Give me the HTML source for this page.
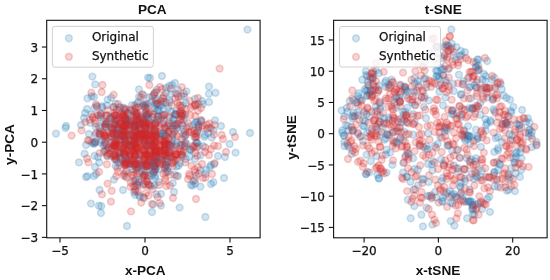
<!DOCTYPE html><html><head><meta charset="utf-8"><title>PCA and t-SNE</title><style>html,body{margin:0;padding:0;background:#fff;width:550px;height:280px;overflow:hidden}svg{display:block}</style></head><body><svg width="550" height="280" viewBox="0 0 550 280">
<rect width="550" height="280" fill="#fff"/>
<clipPath id="clip_pca"><rect x="46.7" y="20.3" width="213.40000000000003" height="217.5"/></clipPath>
<g clip-path="url(#clip_pca)">
<g fill="#1f77b4" fill-opacity="0.2" stroke="#1f77b4" stroke-opacity="0.2" stroke-width="1.6"><circle cx="247.4" cy="29.6" r="3.4"/><circle cx="162.0" cy="76.0" r="3.4"/><circle cx="92.4" cy="76.6" r="3.4"/><circle cx="95.2" cy="84.4" r="3.4"/><circle cx="148.0" cy="77.6" r="3.4"/><circle cx="139.0" cy="89.4" r="3.4"/><circle cx="87.4" cy="98.4" r="3.4"/><circle cx="107.6" cy="99.6" r="3.4"/><circle cx="87.0" cy="109.0" r="3.4"/><circle cx="85.0" cy="113.0" r="3.4"/><circle cx="84.0" cy="118.0" r="3.4"/><circle cx="66.0" cy="126.0" r="3.4"/><circle cx="81.0" cy="125.0" r="3.4"/><circle cx="56.0" cy="133.6" r="3.4"/><circle cx="65.6" cy="128.0" r="3.4"/><circle cx="89.0" cy="134.0" r="3.4"/><circle cx="86.0" cy="145.0" r="3.4"/><circle cx="92.0" cy="142.0" r="3.4"/><circle cx="79.0" cy="162.4" r="3.4"/><circle cx="95.0" cy="167.0" r="3.4"/><circle cx="96.0" cy="174.0" r="3.4"/><circle cx="86.0" cy="177.0" r="3.4"/><circle cx="94.0" cy="176.0" r="3.4"/><circle cx="114.0" cy="179.6" r="3.4"/><circle cx="99.6" cy="190.0" r="3.4"/><circle cx="91.0" cy="203.6" r="3.4"/><circle cx="101.0" cy="213.0" r="3.4"/><circle cx="152.0" cy="212.0" r="3.4"/><circle cx="127.0" cy="226.0" r="3.4"/><circle cx="123.0" cy="190.0" r="3.4"/><circle cx="134.0" cy="192.0" r="3.4"/><circle cx="140.0" cy="197.0" r="3.4"/><circle cx="144.0" cy="198.0" r="3.4"/><circle cx="250.0" cy="133.0" r="3.4"/><circle cx="233.0" cy="132.0" r="3.4"/><circle cx="229.6" cy="144.0" r="3.4"/><circle cx="235.6" cy="152.6" r="3.4"/><circle cx="221.0" cy="126.0" r="3.4"/><circle cx="215.0" cy="120.4" r="3.4"/><circle cx="205.0" cy="135.0" r="3.4"/><circle cx="208.0" cy="133.0" r="3.4"/><circle cx="203.0" cy="146.0" r="3.4"/><circle cx="218.0" cy="156.0" r="3.4"/><circle cx="225.0" cy="157.0" r="3.4"/><circle cx="211.0" cy="165.0" r="3.4"/><circle cx="195.0" cy="159.0" r="3.4"/><circle cx="191.0" cy="150.0" r="3.4"/><circle cx="198.0" cy="130.0" r="3.4"/><circle cx="197.0" cy="122.0" r="3.4"/><circle cx="180.0" cy="163.0" r="3.4"/><circle cx="224.0" cy="178.0" r="3.4"/><circle cx="211.0" cy="184.0" r="3.4"/><circle cx="210.0" cy="167.0" r="3.4"/><circle cx="200.4" cy="186.6" r="3.4"/><circle cx="191.0" cy="185.0" r="3.4"/><circle cx="196.0" cy="176.0" r="3.4"/><circle cx="178.0" cy="176.0" r="3.4"/><circle cx="174.0" cy="192.0" r="3.4"/><circle cx="161.0" cy="194.0" r="3.4"/><circle cx="161.0" cy="205.6" r="3.4"/><circle cx="179.6" cy="207.6" r="3.4"/><circle cx="205.4" cy="217.0" r="3.4"/><circle cx="175.0" cy="83.0" r="3.4"/><circle cx="172.0" cy="85.0" r="3.4"/><circle cx="178.0" cy="90.0" r="3.4"/><circle cx="186.4" cy="91.4" r="3.4"/><circle cx="209.0" cy="86.6" r="3.4"/><circle cx="202.0" cy="101.0" r="3.4"/><circle cx="209.0" cy="102.0" r="3.4"/><circle cx="186.0" cy="103.0" r="3.4"/><circle cx="150.0" cy="78.0" r="3.4"/><circle cx="91.7" cy="96.3" r="3.4"/><circle cx="165.9" cy="87.9" r="3.4"/><circle cx="156.9" cy="89.6" r="3.4"/><circle cx="169.1" cy="86.0" r="3.4"/><circle cx="165.9" cy="92.9" r="3.4"/><circle cx="215.5" cy="92.8" r="3.4"/><circle cx="94.1" cy="96.9" r="3.4"/><circle cx="101.9" cy="106.1" r="3.4"/><circle cx="111.2" cy="97.6" r="3.4"/><circle cx="138.4" cy="101.7" r="3.4"/><circle cx="139.0" cy="96.8" r="3.4"/><circle cx="154.0" cy="95.1" r="3.4"/><circle cx="143.7" cy="95.3" r="3.4"/><circle cx="147.7" cy="104.3" r="3.4"/><circle cx="151.8" cy="101.3" r="3.4"/><circle cx="154.3" cy="93.9" r="3.4"/><circle cx="149.1" cy="97.3" r="3.4"/><circle cx="155.4" cy="103.5" r="3.4"/><circle cx="157.1" cy="104.1" r="3.4"/><circle cx="162.4" cy="98.0" r="3.4"/><circle cx="163.4" cy="101.7" r="3.4"/><circle cx="155.9" cy="99.0" r="3.4"/><circle cx="169.4" cy="100.4" r="3.4"/><circle cx="175.6" cy="93.6" r="3.4"/><circle cx="170.9" cy="93.9" r="3.4"/><circle cx="169.8" cy="102.1" r="3.4"/><circle cx="181.3" cy="96.2" r="3.4"/><circle cx="184.0" cy="96.3" r="3.4"/><circle cx="194.9" cy="98.9" r="3.4"/><circle cx="208.9" cy="93.9" r="3.4"/><circle cx="91.4" cy="114.4" r="3.4"/><circle cx="99.0" cy="115.6" r="3.4"/><circle cx="102.3" cy="107.5" r="3.4"/><circle cx="96.5" cy="105.8" r="3.4"/><circle cx="94.5" cy="108.0" r="3.4"/><circle cx="113.3" cy="106.9" r="3.4"/><circle cx="114.4" cy="115.3" r="3.4"/><circle cx="115.5" cy="103.6" r="3.4"/><circle cx="106.9" cy="105.4" r="3.4"/><circle cx="119.6" cy="107.0" r="3.4"/><circle cx="118.7" cy="110.2" r="3.4"/><circle cx="131.9" cy="105.2" r="3.4"/><circle cx="128.2" cy="113.0" r="3.4"/><circle cx="123.7" cy="107.7" r="3.4"/><circle cx="124.3" cy="108.7" r="3.4"/><circle cx="135.7" cy="113.3" r="3.4"/><circle cx="134.8" cy="112.8" r="3.4"/><circle cx="131.2" cy="110.1" r="3.4"/><circle cx="145.9" cy="115.1" r="3.4"/><circle cx="136.8" cy="103.6" r="3.4"/><circle cx="143.5" cy="104.3" r="3.4"/><circle cx="142.7" cy="114.8" r="3.4"/><circle cx="137.0" cy="115.6" r="3.4"/><circle cx="136.5" cy="107.7" r="3.4"/><circle cx="143.8" cy="105.6" r="3.4"/><circle cx="145.6" cy="105.5" r="3.4"/><circle cx="147.5" cy="115.2" r="3.4"/><circle cx="149.1" cy="114.0" r="3.4"/><circle cx="145.4" cy="107.7" r="3.4"/><circle cx="154.4" cy="104.9" r="3.4"/><circle cx="144.7" cy="106.9" r="3.4"/><circle cx="157.8" cy="110.5" r="3.4"/><circle cx="154.7" cy="108.4" r="3.4"/><circle cx="156.9" cy="110.9" r="3.4"/><circle cx="162.7" cy="115.4" r="3.4"/><circle cx="162.2" cy="104.3" r="3.4"/><circle cx="159.0" cy="110.5" r="3.4"/><circle cx="157.6" cy="116.0" r="3.4"/><circle cx="160.4" cy="105.5" r="3.4"/><circle cx="161.8" cy="115.8" r="3.4"/><circle cx="171.0" cy="111.9" r="3.4"/><circle cx="163.9" cy="108.7" r="3.4"/><circle cx="168.3" cy="108.1" r="3.4"/><circle cx="176.7" cy="110.8" r="3.4"/><circle cx="182.7" cy="105.4" r="3.4"/><circle cx="195.9" cy="105.5" r="3.4"/><circle cx="183.5" cy="116.1" r="3.4"/><circle cx="202.7" cy="104.2" r="3.4"/><circle cx="90.1" cy="122.8" r="3.4"/><circle cx="103.1" cy="121.9" r="3.4"/><circle cx="98.8" cy="126.4" r="3.4"/><circle cx="100.4" cy="117.4" r="3.4"/><circle cx="100.7" cy="113.7" r="3.4"/><circle cx="111.4" cy="116.9" r="3.4"/><circle cx="110.0" cy="118.1" r="3.4"/><circle cx="116.0" cy="121.2" r="3.4"/><circle cx="108.0" cy="121.9" r="3.4"/><circle cx="116.4" cy="118.6" r="3.4"/><circle cx="107.4" cy="115.2" r="3.4"/><circle cx="117.0" cy="120.8" r="3.4"/><circle cx="113.8" cy="122.8" r="3.4"/><circle cx="120.4" cy="123.7" r="3.4"/><circle cx="132.0" cy="126.4" r="3.4"/><circle cx="126.2" cy="121.2" r="3.4"/><circle cx="123.7" cy="114.5" r="3.4"/><circle cx="125.0" cy="120.0" r="3.4"/><circle cx="127.8" cy="120.2" r="3.4"/><circle cx="134.7" cy="116.8" r="3.4"/><circle cx="126.3" cy="119.7" r="3.4"/><circle cx="125.2" cy="118.5" r="3.4"/><circle cx="125.7" cy="123.6" r="3.4"/><circle cx="129.8" cy="120.7" r="3.4"/><circle cx="130.8" cy="120.9" r="3.4"/><circle cx="127.5" cy="113.9" r="3.4"/><circle cx="139.9" cy="119.6" r="3.4"/><circle cx="142.9" cy="119.1" r="3.4"/><circle cx="136.2" cy="123.4" r="3.4"/><circle cx="146.2" cy="114.9" r="3.4"/><circle cx="140.3" cy="119.6" r="3.4"/><circle cx="135.3" cy="125.7" r="3.4"/><circle cx="139.2" cy="121.9" r="3.4"/><circle cx="142.9" cy="122.9" r="3.4"/><circle cx="136.9" cy="122.5" r="3.4"/><circle cx="137.3" cy="125.7" r="3.4"/><circle cx="143.7" cy="125.4" r="3.4"/><circle cx="146.2" cy="122.8" r="3.4"/><circle cx="155.5" cy="123.4" r="3.4"/><circle cx="154.8" cy="124.8" r="3.4"/><circle cx="153.4" cy="117.2" r="3.4"/><circle cx="148.3" cy="120.2" r="3.4"/><circle cx="148.1" cy="118.3" r="3.4"/><circle cx="148.9" cy="123.8" r="3.4"/><circle cx="146.3" cy="116.6" r="3.4"/><circle cx="157.9" cy="120.3" r="3.4"/><circle cx="163.8" cy="119.6" r="3.4"/><circle cx="156.1" cy="119.8" r="3.4"/><circle cx="167.7" cy="125.8" r="3.4"/><circle cx="169.5" cy="117.6" r="3.4"/><circle cx="170.2" cy="125.7" r="3.4"/><circle cx="174.1" cy="119.2" r="3.4"/><circle cx="173.1" cy="119.2" r="3.4"/><circle cx="173.1" cy="123.5" r="3.4"/><circle cx="176.4" cy="114.5" r="3.4"/><circle cx="174.9" cy="114.8" r="3.4"/><circle cx="181.3" cy="115.2" r="3.4"/><circle cx="175.3" cy="113.7" r="3.4"/><circle cx="182.5" cy="125.1" r="3.4"/><circle cx="183.0" cy="113.5" r="3.4"/><circle cx="189.7" cy="126.3" r="3.4"/><circle cx="183.8" cy="120.3" r="3.4"/><circle cx="194.5" cy="124.1" r="3.4"/><circle cx="195.6" cy="122.2" r="3.4"/><circle cx="198.3" cy="124.5" r="3.4"/><circle cx="201.6" cy="120.8" r="3.4"/><circle cx="201.0" cy="121.4" r="3.4"/><circle cx="95.8" cy="126.9" r="3.4"/><circle cx="106.3" cy="127.1" r="3.4"/><circle cx="99.5" cy="133.3" r="3.4"/><circle cx="100.7" cy="131.3" r="3.4"/><circle cx="115.7" cy="135.4" r="3.4"/><circle cx="110.7" cy="136.5" r="3.4"/><circle cx="105.5" cy="126.8" r="3.4"/><circle cx="111.7" cy="128.2" r="3.4"/><circle cx="105.2" cy="124.2" r="3.4"/><circle cx="112.4" cy="128.7" r="3.4"/><circle cx="116.3" cy="133.5" r="3.4"/><circle cx="111.0" cy="128.3" r="3.4"/><circle cx="106.2" cy="123.8" r="3.4"/><circle cx="125.8" cy="123.8" r="3.4"/><circle cx="115.7" cy="124.2" r="3.4"/><circle cx="118.0" cy="126.6" r="3.4"/><circle cx="117.9" cy="128.0" r="3.4"/><circle cx="118.4" cy="128.9" r="3.4"/><circle cx="122.5" cy="135.8" r="3.4"/><circle cx="116.1" cy="130.3" r="3.4"/><circle cx="124.9" cy="136.0" r="3.4"/><circle cx="125.5" cy="126.4" r="3.4"/><circle cx="123.8" cy="132.5" r="3.4"/><circle cx="122.1" cy="131.7" r="3.4"/><circle cx="136.4" cy="133.3" r="3.4"/><circle cx="128.7" cy="124.2" r="3.4"/><circle cx="125.2" cy="134.8" r="3.4"/><circle cx="124.3" cy="127.8" r="3.4"/><circle cx="131.3" cy="135.7" r="3.4"/><circle cx="123.9" cy="125.0" r="3.4"/><circle cx="129.6" cy="134.5" r="3.4"/><circle cx="128.7" cy="130.2" r="3.4"/><circle cx="131.7" cy="127.5" r="3.4"/><circle cx="134.0" cy="124.0" r="3.4"/><circle cx="145.0" cy="125.5" r="3.4"/><circle cx="134.6" cy="126.1" r="3.4"/><circle cx="135.6" cy="135.0" r="3.4"/><circle cx="142.3" cy="124.8" r="3.4"/><circle cx="137.4" cy="130.4" r="3.4"/><circle cx="145.6" cy="133.2" r="3.4"/><circle cx="137.5" cy="125.1" r="3.4"/><circle cx="141.9" cy="134.1" r="3.4"/><circle cx="135.8" cy="125.2" r="3.4"/><circle cx="139.1" cy="129.6" r="3.4"/><circle cx="145.6" cy="132.9" r="3.4"/><circle cx="153.8" cy="129.3" r="3.4"/><circle cx="155.3" cy="131.8" r="3.4"/><circle cx="145.6" cy="128.6" r="3.4"/><circle cx="155.9" cy="135.8" r="3.4"/><circle cx="151.2" cy="129.6" r="3.4"/><circle cx="148.9" cy="131.5" r="3.4"/><circle cx="166.2" cy="128.9" r="3.4"/><circle cx="162.4" cy="123.8" r="3.4"/><circle cx="159.9" cy="135.6" r="3.4"/><circle cx="155.9" cy="135.4" r="3.4"/><circle cx="161.1" cy="133.7" r="3.4"/><circle cx="162.4" cy="133.7" r="3.4"/><circle cx="164.2" cy="132.2" r="3.4"/><circle cx="172.5" cy="135.0" r="3.4"/><circle cx="165.0" cy="134.1" r="3.4"/><circle cx="176.4" cy="128.7" r="3.4"/><circle cx="172.3" cy="128.4" r="3.4"/><circle cx="177.0" cy="127.6" r="3.4"/><circle cx="176.4" cy="125.4" r="3.4"/><circle cx="176.6" cy="123.9" r="3.4"/><circle cx="183.4" cy="129.3" r="3.4"/><circle cx="184.0" cy="136.3" r="3.4"/><circle cx="197.2" cy="132.3" r="3.4"/><circle cx="198.5" cy="127.6" r="3.4"/><circle cx="213.7" cy="130.3" r="3.4"/><circle cx="209.3" cy="127.7" r="3.4"/><circle cx="93.0" cy="143.6" r="3.4"/><circle cx="94.2" cy="143.7" r="3.4"/><circle cx="100.3" cy="142.3" r="3.4"/><circle cx="101.8" cy="139.9" r="3.4"/><circle cx="95.1" cy="142.5" r="3.4"/><circle cx="95.2" cy="134.8" r="3.4"/><circle cx="100.3" cy="135.4" r="3.4"/><circle cx="94.6" cy="142.1" r="3.4"/><circle cx="103.3" cy="145.3" r="3.4"/><circle cx="112.7" cy="141.6" r="3.4"/><circle cx="112.8" cy="133.7" r="3.4"/><circle cx="104.9" cy="145.5" r="3.4"/><circle cx="105.0" cy="142.1" r="3.4"/><circle cx="108.5" cy="137.7" r="3.4"/><circle cx="115.5" cy="146.1" r="3.4"/><circle cx="122.7" cy="134.1" r="3.4"/><circle cx="117.8" cy="139.9" r="3.4"/><circle cx="119.4" cy="139.4" r="3.4"/><circle cx="116.8" cy="137.9" r="3.4"/><circle cx="125.0" cy="145.1" r="3.4"/><circle cx="124.0" cy="137.5" r="3.4"/><circle cx="117.1" cy="133.6" r="3.4"/><circle cx="114.5" cy="143.9" r="3.4"/><circle cx="126.1" cy="142.5" r="3.4"/><circle cx="120.7" cy="135.5" r="3.4"/><circle cx="133.1" cy="135.3" r="3.4"/><circle cx="128.4" cy="140.5" r="3.4"/><circle cx="135.6" cy="137.1" r="3.4"/><circle cx="130.9" cy="141.1" r="3.4"/><circle cx="126.2" cy="144.3" r="3.4"/><circle cx="134.1" cy="136.6" r="3.4"/><circle cx="123.6" cy="139.8" r="3.4"/><circle cx="138.5" cy="134.0" r="3.4"/><circle cx="142.8" cy="136.1" r="3.4"/><circle cx="137.2" cy="142.5" r="3.4"/><circle cx="135.6" cy="143.9" r="3.4"/><circle cx="133.8" cy="140.9" r="3.4"/><circle cx="139.4" cy="139.0" r="3.4"/><circle cx="144.5" cy="144.0" r="3.4"/><circle cx="139.0" cy="133.6" r="3.4"/><circle cx="142.9" cy="135.3" r="3.4"/><circle cx="136.2" cy="137.2" r="3.4"/><circle cx="148.2" cy="140.7" r="3.4"/><circle cx="147.6" cy="136.6" r="3.4"/><circle cx="143.8" cy="137.6" r="3.4"/><circle cx="143.6" cy="141.2" r="3.4"/><circle cx="144.2" cy="137.5" r="3.4"/><circle cx="149.3" cy="145.5" r="3.4"/><circle cx="145.6" cy="145.5" r="3.4"/><circle cx="153.6" cy="143.5" r="3.4"/><circle cx="151.9" cy="139.3" r="3.4"/><circle cx="155.9" cy="141.6" r="3.4"/><circle cx="165.4" cy="144.2" r="3.4"/><circle cx="165.2" cy="144.0" r="3.4"/><circle cx="154.9" cy="135.5" r="3.4"/><circle cx="163.0" cy="135.9" r="3.4"/><circle cx="172.7" cy="134.3" r="3.4"/><circle cx="172.0" cy="138.7" r="3.4"/><circle cx="164.2" cy="140.6" r="3.4"/><circle cx="168.1" cy="144.6" r="3.4"/><circle cx="164.9" cy="135.5" r="3.4"/><circle cx="171.9" cy="142.5" r="3.4"/><circle cx="185.7" cy="134.9" r="3.4"/><circle cx="180.4" cy="145.3" r="3.4"/><circle cx="185.3" cy="142.5" r="3.4"/><circle cx="177.0" cy="142.3" r="3.4"/><circle cx="181.8" cy="144.4" r="3.4"/><circle cx="194.4" cy="137.0" r="3.4"/><circle cx="196.0" cy="142.5" r="3.4"/><circle cx="183.8" cy="133.7" r="3.4"/><circle cx="198.6" cy="146.1" r="3.4"/><circle cx="196.6" cy="143.0" r="3.4"/><circle cx="197.4" cy="142.9" r="3.4"/><circle cx="211.7" cy="137.5" r="3.4"/><circle cx="204.4" cy="136.9" r="3.4"/><circle cx="84.6" cy="153.8" r="3.4"/><circle cx="103.7" cy="152.0" r="3.4"/><circle cx="111.7" cy="156.3" r="3.4"/><circle cx="106.7" cy="149.6" r="3.4"/><circle cx="108.0" cy="147.4" r="3.4"/><circle cx="111.6" cy="148.3" r="3.4"/><circle cx="107.3" cy="155.7" r="3.4"/><circle cx="118.6" cy="151.7" r="3.4"/><circle cx="120.9" cy="152.6" r="3.4"/><circle cx="125.6" cy="154.9" r="3.4"/><circle cx="119.7" cy="153.1" r="3.4"/><circle cx="124.8" cy="144.8" r="3.4"/><circle cx="124.1" cy="147.6" r="3.4"/><circle cx="124.2" cy="154.1" r="3.4"/><circle cx="131.1" cy="145.0" r="3.4"/><circle cx="132.8" cy="148.4" r="3.4"/><circle cx="127.9" cy="155.9" r="3.4"/><circle cx="133.4" cy="144.6" r="3.4"/><circle cx="132.4" cy="145.4" r="3.4"/><circle cx="132.2" cy="145.6" r="3.4"/><circle cx="135.4" cy="155.3" r="3.4"/><circle cx="135.6" cy="149.5" r="3.4"/><circle cx="144.5" cy="156.1" r="3.4"/><circle cx="153.5" cy="145.2" r="3.4"/><circle cx="156.2" cy="154.8" r="3.4"/><circle cx="149.8" cy="144.6" r="3.4"/><circle cx="148.8" cy="145.4" r="3.4"/><circle cx="154.1" cy="153.1" r="3.4"/><circle cx="156.2" cy="152.0" r="3.4"/><circle cx="164.1" cy="149.6" r="3.4"/><circle cx="165.5" cy="150.2" r="3.4"/><circle cx="157.7" cy="151.6" r="3.4"/><circle cx="155.4" cy="150.9" r="3.4"/><circle cx="161.5" cy="149.6" r="3.4"/><circle cx="153.8" cy="144.8" r="3.4"/><circle cx="170.7" cy="146.0" r="3.4"/><circle cx="170.0" cy="151.3" r="3.4"/><circle cx="168.7" cy="145.2" r="3.4"/><circle cx="172.3" cy="146.3" r="3.4"/><circle cx="176.2" cy="144.7" r="3.4"/><circle cx="184.3" cy="146.8" r="3.4"/><circle cx="181.6" cy="154.8" r="3.4"/><circle cx="186.3" cy="143.6" r="3.4"/><circle cx="190.7" cy="149.2" r="3.4"/><circle cx="189.6" cy="149.6" r="3.4"/><circle cx="94.6" cy="155.8" r="3.4"/><circle cx="98.0" cy="157.1" r="3.4"/><circle cx="99.3" cy="162.5" r="3.4"/><circle cx="115.6" cy="165.9" r="3.4"/><circle cx="115.1" cy="159.1" r="3.4"/><circle cx="115.1" cy="154.8" r="3.4"/><circle cx="116.3" cy="159.7" r="3.4"/><circle cx="120.0" cy="165.2" r="3.4"/><circle cx="121.7" cy="159.0" r="3.4"/><circle cx="125.9" cy="161.6" r="3.4"/><circle cx="119.7" cy="156.7" r="3.4"/><circle cx="118.5" cy="162.4" r="3.4"/><circle cx="122.3" cy="160.9" r="3.4"/><circle cx="130.5" cy="163.9" r="3.4"/><circle cx="127.0" cy="164.1" r="3.4"/><circle cx="134.4" cy="164.9" r="3.4"/><circle cx="131.8" cy="161.4" r="3.4"/><circle cx="133.6" cy="164.1" r="3.4"/><circle cx="130.0" cy="154.4" r="3.4"/><circle cx="129.0" cy="159.9" r="3.4"/><circle cx="126.5" cy="163.7" r="3.4"/><circle cx="125.7" cy="157.9" r="3.4"/><circle cx="145.3" cy="154.6" r="3.4"/><circle cx="137.8" cy="153.7" r="3.4"/><circle cx="145.7" cy="163.4" r="3.4"/><circle cx="139.3" cy="160.1" r="3.4"/><circle cx="142.5" cy="165.2" r="3.4"/><circle cx="143.7" cy="164.8" r="3.4"/><circle cx="138.2" cy="160.4" r="3.4"/><circle cx="146.3" cy="164.7" r="3.4"/><circle cx="139.0" cy="155.0" r="3.4"/><circle cx="154.7" cy="160.7" r="3.4"/><circle cx="153.9" cy="163.6" r="3.4"/><circle cx="149.6" cy="159.8" r="3.4"/><circle cx="148.7" cy="165.4" r="3.4"/><circle cx="153.3" cy="159.7" r="3.4"/><circle cx="153.3" cy="161.6" r="3.4"/><circle cx="150.6" cy="153.5" r="3.4"/><circle cx="150.6" cy="162.5" r="3.4"/><circle cx="154.9" cy="159.9" r="3.4"/><circle cx="147.6" cy="154.3" r="3.4"/><circle cx="160.2" cy="159.9" r="3.4"/><circle cx="157.6" cy="157.6" r="3.4"/><circle cx="166.3" cy="159.1" r="3.4"/><circle cx="156.7" cy="162.8" r="3.4"/><circle cx="156.2" cy="157.6" r="3.4"/><circle cx="155.9" cy="162.3" r="3.4"/><circle cx="154.6" cy="165.9" r="3.4"/><circle cx="161.9" cy="156.6" r="3.4"/><circle cx="153.9" cy="166.4" r="3.4"/><circle cx="162.4" cy="159.5" r="3.4"/><circle cx="166.2" cy="157.9" r="3.4"/><circle cx="168.5" cy="156.4" r="3.4"/><circle cx="173.1" cy="161.3" r="3.4"/><circle cx="166.5" cy="153.6" r="3.4"/><circle cx="167.9" cy="161.6" r="3.4"/><circle cx="178.7" cy="165.6" r="3.4"/><circle cx="174.4" cy="156.2" r="3.4"/><circle cx="176.7" cy="166.5" r="3.4"/><circle cx="182.5" cy="155.2" r="3.4"/><circle cx="189.6" cy="156.8" r="3.4"/><circle cx="185.8" cy="159.0" r="3.4"/><circle cx="200.5" cy="155.2" r="3.4"/><circle cx="87.5" cy="176.2" r="3.4"/><circle cx="126.3" cy="170.6" r="3.4"/><circle cx="132.5" cy="168.9" r="3.4"/><circle cx="137.7" cy="167.5" r="3.4"/><circle cx="139.3" cy="164.0" r="3.4"/><circle cx="136.4" cy="163.9" r="3.4"/><circle cx="136.7" cy="168.1" r="3.4"/><circle cx="139.7" cy="171.9" r="3.4"/><circle cx="136.9" cy="169.9" r="3.4"/><circle cx="146.8" cy="170.2" r="3.4"/><circle cx="155.4" cy="169.5" r="3.4"/><circle cx="152.5" cy="170.4" r="3.4"/><circle cx="144.1" cy="166.9" r="3.4"/><circle cx="153.0" cy="174.0" r="3.4"/><circle cx="151.5" cy="175.7" r="3.4"/><circle cx="143.7" cy="175.0" r="3.4"/><circle cx="155.7" cy="168.5" r="3.4"/><circle cx="153.6" cy="172.2" r="3.4"/><circle cx="152.8" cy="166.2" r="3.4"/><circle cx="144.9" cy="171.4" r="3.4"/><circle cx="155.1" cy="175.6" r="3.4"/><circle cx="158.8" cy="169.3" r="3.4"/><circle cx="165.3" cy="165.4" r="3.4"/><circle cx="166.1" cy="165.1" r="3.4"/><circle cx="155.0" cy="166.9" r="3.4"/><circle cx="165.0" cy="168.6" r="3.4"/><circle cx="166.3" cy="166.0" r="3.4"/><circle cx="168.0" cy="171.8" r="3.4"/><circle cx="168.2" cy="167.6" r="3.4"/><circle cx="167.0" cy="171.5" r="3.4"/><circle cx="174.6" cy="174.7" r="3.4"/><circle cx="205.4" cy="173.9" r="3.4"/><circle cx="200.3" cy="170.4" r="3.4"/><circle cx="205.9" cy="170.0" r="3.4"/><circle cx="214.1" cy="164.3" r="3.4"/><circle cx="125.5" cy="176.3" r="3.4"/><circle cx="133.6" cy="181.1" r="3.4"/><circle cx="135.2" cy="186.4" r="3.4"/><circle cx="135.4" cy="179.4" r="3.4"/><circle cx="139.0" cy="182.4" r="3.4"/><circle cx="142.7" cy="185.0" r="3.4"/><circle cx="138.6" cy="181.5" r="3.4"/><circle cx="143.1" cy="176.2" r="3.4"/><circle cx="150.0" cy="184.9" r="3.4"/><circle cx="147.8" cy="178.7" r="3.4"/><circle cx="150.9" cy="186.1" r="3.4"/><circle cx="155.1" cy="177.9" r="3.4"/><circle cx="154.6" cy="185.1" r="3.4"/><circle cx="158.4" cy="181.9" r="3.4"/><circle cx="172.8" cy="183.1" r="3.4"/><circle cx="192.8" cy="185.6" r="3.4"/><circle cx="193.2" cy="181.1" r="3.4"/><circle cx="195.2" cy="183.6" r="3.4"/><circle cx="213.4" cy="182.3" r="3.4"/><circle cx="137.9" cy="185.0" r="3.4"/><circle cx="135.0" cy="194.9" r="3.4"/><circle cx="139.1" cy="195.4" r="3.4"/><circle cx="156.3" cy="194.4" r="3.4"/><circle cx="101.3" cy="206.1" r="3.4"/><circle cx="98.9" cy="205.7" r="3.4"/><circle cx="153.2" cy="204.4" r="3.4"/></g>
<g fill="#d62728" fill-opacity="0.2" stroke="#d62728" stroke-opacity="0.2" stroke-width="1.6"><circle cx="219.6" cy="68.6" r="3.4"/><circle cx="102.4" cy="85.0" r="3.4"/><circle cx="101.6" cy="92.0" r="3.4"/><circle cx="149.4" cy="85.0" r="3.4"/><circle cx="96.0" cy="104.4" r="3.4"/><circle cx="93.0" cy="118.0" r="3.4"/><circle cx="71.6" cy="135.6" r="3.4"/><circle cx="81.6" cy="130.4" r="3.4"/><circle cx="87.0" cy="158.4" r="3.4"/><circle cx="99.0" cy="172.0" r="3.4"/><circle cx="107.6" cy="183.6" r="3.4"/><circle cx="102.0" cy="194.4" r="3.4"/><circle cx="111.0" cy="201.6" r="3.4"/><circle cx="131.0" cy="211.4" r="3.4"/><circle cx="152.0" cy="204.0" r="3.4"/><circle cx="235.0" cy="137.0" r="3.4"/><circle cx="221.6" cy="135.0" r="3.4"/><circle cx="223.0" cy="139.0" r="3.4"/><circle cx="207.0" cy="125.0" r="3.4"/><circle cx="211.0" cy="128.0" r="3.4"/><circle cx="218.0" cy="146.0" r="3.4"/><circle cx="211.0" cy="149.0" r="3.4"/><circle cx="205.0" cy="152.0" r="3.4"/><circle cx="209.0" cy="155.0" r="3.4"/><circle cx="226.0" cy="152.0" r="3.4"/><circle cx="202.0" cy="164.0" r="3.4"/><circle cx="198.0" cy="167.0" r="3.4"/><circle cx="195.0" cy="146.0" r="3.4"/><circle cx="197.0" cy="136.0" r="3.4"/><circle cx="194.0" cy="134.0" r="3.4"/><circle cx="188.0" cy="123.0" r="3.4"/><circle cx="212.0" cy="174.0" r="3.4"/><circle cx="203.0" cy="178.0" r="3.4"/><circle cx="195.0" cy="180.0" r="3.4"/><circle cx="188.0" cy="179.0" r="3.4"/><circle cx="189.0" cy="174.0" r="3.4"/><circle cx="170.0" cy="185.6" r="3.4"/><circle cx="159.0" cy="185.0" r="3.4"/><circle cx="173.0" cy="198.0" r="3.4"/><circle cx="157.6" cy="197.0" r="3.4"/><circle cx="196.0" cy="199.0" r="3.4"/><circle cx="160.0" cy="87.0" r="3.4"/><circle cx="198.0" cy="98.0" r="3.4"/><circle cx="195.0" cy="105.0" r="3.4"/><circle cx="201.0" cy="108.0" r="3.4"/><circle cx="91.4" cy="92.7" r="3.4"/><circle cx="156.0" cy="92.3" r="3.4"/><circle cx="152.2" cy="96.4" r="3.4"/><circle cx="154.6" cy="92.6" r="3.4"/><circle cx="162.0" cy="89.2" r="3.4"/><circle cx="170.7" cy="88.5" r="3.4"/><circle cx="181.8" cy="87.1" r="3.4"/><circle cx="113.7" cy="94.8" r="3.4"/><circle cx="142.1" cy="94.1" r="3.4"/><circle cx="141.0" cy="97.1" r="3.4"/><circle cx="157.1" cy="103.4" r="3.4"/><circle cx="163.2" cy="98.1" r="3.4"/><circle cx="155.8" cy="100.9" r="3.4"/><circle cx="158.4" cy="103.5" r="3.4"/><circle cx="161.2" cy="101.1" r="3.4"/><circle cx="165.8" cy="102.4" r="3.4"/><circle cx="175.4" cy="98.4" r="3.4"/><circle cx="163.8" cy="96.0" r="3.4"/><circle cx="178.3" cy="97.1" r="3.4"/><circle cx="179.1" cy="105.7" r="3.4"/><circle cx="177.5" cy="102.5" r="3.4"/><circle cx="177.3" cy="94.3" r="3.4"/><circle cx="183.9" cy="93.7" r="3.4"/><circle cx="189.7" cy="100.8" r="3.4"/><circle cx="198.0" cy="104.0" r="3.4"/><circle cx="92.7" cy="116.5" r="3.4"/><circle cx="100.8" cy="113.7" r="3.4"/><circle cx="97.1" cy="106.9" r="3.4"/><circle cx="116.4" cy="110.0" r="3.4"/><circle cx="107.7" cy="110.0" r="3.4"/><circle cx="114.0" cy="107.3" r="3.4"/><circle cx="123.2" cy="115.3" r="3.4"/><circle cx="118.1" cy="103.9" r="3.4"/><circle cx="114.3" cy="112.9" r="3.4"/><circle cx="120.7" cy="108.0" r="3.4"/><circle cx="125.3" cy="115.7" r="3.4"/><circle cx="125.9" cy="109.1" r="3.4"/><circle cx="134.1" cy="110.8" r="3.4"/><circle cx="127.4" cy="112.4" r="3.4"/><circle cx="130.3" cy="109.6" r="3.4"/><circle cx="124.8" cy="110.2" r="3.4"/><circle cx="134.7" cy="105.6" r="3.4"/><circle cx="133.8" cy="116.2" r="3.4"/><circle cx="145.6" cy="103.8" r="3.4"/><circle cx="136.1" cy="114.9" r="3.4"/><circle cx="138.2" cy="107.1" r="3.4"/><circle cx="135.3" cy="108.4" r="3.4"/><circle cx="142.6" cy="106.7" r="3.4"/><circle cx="136.7" cy="112.4" r="3.4"/><circle cx="146.3" cy="112.0" r="3.4"/><circle cx="149.9" cy="112.0" r="3.4"/><circle cx="147.2" cy="107.9" r="3.4"/><circle cx="145.1" cy="113.7" r="3.4"/><circle cx="171.6" cy="105.4" r="3.4"/><circle cx="164.0" cy="114.9" r="3.4"/><circle cx="169.0" cy="116.0" r="3.4"/><circle cx="179.8" cy="113.0" r="3.4"/><circle cx="181.0" cy="111.3" r="3.4"/><circle cx="182.0" cy="113.4" r="3.4"/><circle cx="186.2" cy="109.1" r="3.4"/><circle cx="179.9" cy="113.0" r="3.4"/><circle cx="181.4" cy="107.4" r="3.4"/><circle cx="180.2" cy="105.1" r="3.4"/><circle cx="185.5" cy="114.3" r="3.4"/><circle cx="190.7" cy="108.0" r="3.4"/><circle cx="193.7" cy="105.9" r="3.4"/><circle cx="190.3" cy="115.3" r="3.4"/><circle cx="195.1" cy="104.2" r="3.4"/><circle cx="198.0" cy="110.7" r="3.4"/><circle cx="89.9" cy="119.9" r="3.4"/><circle cx="85.3" cy="122.1" r="3.4"/><circle cx="101.0" cy="115.4" r="3.4"/><circle cx="95.0" cy="119.9" r="3.4"/><circle cx="95.5" cy="123.4" r="3.4"/><circle cx="105.9" cy="122.5" r="3.4"/><circle cx="97.3" cy="115.3" r="3.4"/><circle cx="105.7" cy="115.5" r="3.4"/><circle cx="115.6" cy="116.1" r="3.4"/><circle cx="110.8" cy="118.0" r="3.4"/><circle cx="113.8" cy="116.3" r="3.4"/><circle cx="114.0" cy="125.1" r="3.4"/><circle cx="114.9" cy="119.7" r="3.4"/><circle cx="106.8" cy="115.7" r="3.4"/><circle cx="115.0" cy="114.8" r="3.4"/><circle cx="123.2" cy="117.5" r="3.4"/><circle cx="117.8" cy="119.6" r="3.4"/><circle cx="119.9" cy="123.5" r="3.4"/><circle cx="120.8" cy="122.3" r="3.4"/><circle cx="119.0" cy="117.3" r="3.4"/><circle cx="121.3" cy="114.1" r="3.4"/><circle cx="122.9" cy="116.3" r="3.4"/><circle cx="124.7" cy="124.6" r="3.4"/><circle cx="124.5" cy="116.4" r="3.4"/><circle cx="122.8" cy="115.2" r="3.4"/><circle cx="121.9" cy="116.9" r="3.4"/><circle cx="125.3" cy="117.7" r="3.4"/><circle cx="120.3" cy="124.3" r="3.4"/><circle cx="121.6" cy="124.1" r="3.4"/><circle cx="116.5" cy="114.9" r="3.4"/><circle cx="134.1" cy="125.9" r="3.4"/><circle cx="130.1" cy="122.3" r="3.4"/><circle cx="126.0" cy="123.7" r="3.4"/><circle cx="129.9" cy="123.5" r="3.4"/><circle cx="127.7" cy="121.5" r="3.4"/><circle cx="131.6" cy="119.9" r="3.4"/><circle cx="135.5" cy="120.3" r="3.4"/><circle cx="136.3" cy="116.8" r="3.4"/><circle cx="145.0" cy="126.1" r="3.4"/><circle cx="137.5" cy="118.5" r="3.4"/><circle cx="139.5" cy="122.9" r="3.4"/><circle cx="136.2" cy="114.6" r="3.4"/><circle cx="141.5" cy="117.8" r="3.4"/><circle cx="137.0" cy="121.3" r="3.4"/><circle cx="138.1" cy="119.6" r="3.4"/><circle cx="134.7" cy="125.7" r="3.4"/><circle cx="141.2" cy="117.3" r="3.4"/><circle cx="137.4" cy="113.6" r="3.4"/><circle cx="139.9" cy="122.0" r="3.4"/><circle cx="144.1" cy="120.4" r="3.4"/><circle cx="145.7" cy="122.5" r="3.4"/><circle cx="154.1" cy="124.2" r="3.4"/><circle cx="146.5" cy="122.4" r="3.4"/><circle cx="152.4" cy="116.7" r="3.4"/><circle cx="143.6" cy="122.5" r="3.4"/><circle cx="148.2" cy="113.6" r="3.4"/><circle cx="158.2" cy="116.5" r="3.4"/><circle cx="163.5" cy="122.7" r="3.4"/><circle cx="155.7" cy="122.6" r="3.4"/><circle cx="161.2" cy="118.0" r="3.4"/><circle cx="153.8" cy="114.1" r="3.4"/><circle cx="164.7" cy="114.9" r="3.4"/><circle cx="175.5" cy="114.5" r="3.4"/><circle cx="169.3" cy="123.4" r="3.4"/><circle cx="181.6" cy="116.2" r="3.4"/><circle cx="180.0" cy="120.1" r="3.4"/><circle cx="174.8" cy="125.1" r="3.4"/><circle cx="181.8" cy="115.3" r="3.4"/><circle cx="181.1" cy="119.3" r="3.4"/><circle cx="181.5" cy="122.9" r="3.4"/><circle cx="195.1" cy="116.0" r="3.4"/><circle cx="202.5" cy="125.8" r="3.4"/><circle cx="201.0" cy="119.9" r="3.4"/><circle cx="209.2" cy="123.5" r="3.4"/><circle cx="214.6" cy="124.9" r="3.4"/><circle cx="105.8" cy="135.8" r="3.4"/><circle cx="99.6" cy="133.4" r="3.4"/><circle cx="105.5" cy="124.6" r="3.4"/><circle cx="100.0" cy="128.4" r="3.4"/><circle cx="96.2" cy="133.1" r="3.4"/><circle cx="103.3" cy="132.6" r="3.4"/><circle cx="106.7" cy="123.5" r="3.4"/><circle cx="105.6" cy="126.9" r="3.4"/><circle cx="115.2" cy="124.7" r="3.4"/><circle cx="104.3" cy="135.8" r="3.4"/><circle cx="113.0" cy="134.1" r="3.4"/><circle cx="111.5" cy="132.9" r="3.4"/><circle cx="112.3" cy="129.8" r="3.4"/><circle cx="114.3" cy="133.4" r="3.4"/><circle cx="113.2" cy="132.5" r="3.4"/><circle cx="125.1" cy="130.8" r="3.4"/><circle cx="122.7" cy="129.2" r="3.4"/><circle cx="122.6" cy="126.3" r="3.4"/><circle cx="113.6" cy="128.6" r="3.4"/><circle cx="120.5" cy="130.6" r="3.4"/><circle cx="124.0" cy="135.6" r="3.4"/><circle cx="121.5" cy="136.0" r="3.4"/><circle cx="114.0" cy="127.6" r="3.4"/><circle cx="121.3" cy="133.9" r="3.4"/><circle cx="124.0" cy="134.9" r="3.4"/><circle cx="114.0" cy="124.6" r="3.4"/><circle cx="123.5" cy="124.4" r="3.4"/><circle cx="122.1" cy="128.0" r="3.4"/><circle cx="123.8" cy="131.1" r="3.4"/><circle cx="127.6" cy="135.1" r="3.4"/><circle cx="134.3" cy="127.7" r="3.4"/><circle cx="133.5" cy="127.7" r="3.4"/><circle cx="127.8" cy="130.2" r="3.4"/><circle cx="134.6" cy="126.1" r="3.4"/><circle cx="123.7" cy="125.7" r="3.4"/><circle cx="125.5" cy="126.0" r="3.4"/><circle cx="124.7" cy="130.5" r="3.4"/><circle cx="132.2" cy="133.8" r="3.4"/><circle cx="125.9" cy="126.6" r="3.4"/><circle cx="129.1" cy="125.3" r="3.4"/><circle cx="135.6" cy="130.0" r="3.4"/><circle cx="136.2" cy="135.7" r="3.4"/><circle cx="144.3" cy="125.0" r="3.4"/><circle cx="141.3" cy="133.4" r="3.4"/><circle cx="143.7" cy="133.1" r="3.4"/><circle cx="146.3" cy="133.8" r="3.4"/><circle cx="138.2" cy="125.9" r="3.4"/><circle cx="135.3" cy="132.5" r="3.4"/><circle cx="140.8" cy="129.2" r="3.4"/><circle cx="145.8" cy="125.9" r="3.4"/><circle cx="145.2" cy="124.0" r="3.4"/><circle cx="140.5" cy="129.6" r="3.4"/><circle cx="145.9" cy="135.9" r="3.4"/><circle cx="140.8" cy="128.4" r="3.4"/><circle cx="138.2" cy="133.3" r="3.4"/><circle cx="153.1" cy="136.2" r="3.4"/><circle cx="144.9" cy="127.8" r="3.4"/><circle cx="154.9" cy="132.3" r="3.4"/><circle cx="147.7" cy="134.3" r="3.4"/><circle cx="150.0" cy="125.9" r="3.4"/><circle cx="145.1" cy="127.7" r="3.4"/><circle cx="149.5" cy="135.6" r="3.4"/><circle cx="151.5" cy="126.5" r="3.4"/><circle cx="148.9" cy="123.9" r="3.4"/><circle cx="149.6" cy="136.2" r="3.4"/><circle cx="148.0" cy="133.8" r="3.4"/><circle cx="148.5" cy="128.5" r="3.4"/><circle cx="150.4" cy="127.4" r="3.4"/><circle cx="155.3" cy="131.6" r="3.4"/><circle cx="152.1" cy="124.6" r="3.4"/><circle cx="155.6" cy="123.9" r="3.4"/><circle cx="164.4" cy="128.1" r="3.4"/><circle cx="160.2" cy="127.3" r="3.4"/><circle cx="154.4" cy="131.1" r="3.4"/><circle cx="157.4" cy="131.9" r="3.4"/><circle cx="155.7" cy="128.3" r="3.4"/><circle cx="159.2" cy="125.3" r="3.4"/><circle cx="168.6" cy="131.4" r="3.4"/><circle cx="169.6" cy="131.5" r="3.4"/><circle cx="165.3" cy="127.3" r="3.4"/><circle cx="168.4" cy="133.0" r="3.4"/><circle cx="168.0" cy="125.4" r="3.4"/><circle cx="174.1" cy="131.6" r="3.4"/><circle cx="178.2" cy="123.7" r="3.4"/><circle cx="174.6" cy="126.1" r="3.4"/><circle cx="184.3" cy="131.5" r="3.4"/><circle cx="176.3" cy="134.6" r="3.4"/><circle cx="188.8" cy="132.2" r="3.4"/><circle cx="187.1" cy="127.7" r="3.4"/><circle cx="191.1" cy="131.9" r="3.4"/><circle cx="196.1" cy="133.5" r="3.4"/><circle cx="191.2" cy="130.1" r="3.4"/><circle cx="202.2" cy="128.1" r="3.4"/><circle cx="198.3" cy="126.2" r="3.4"/><circle cx="194.4" cy="130.4" r="3.4"/><circle cx="207.1" cy="128.7" r="3.4"/><circle cx="89.2" cy="140.6" r="3.4"/><circle cx="87.8" cy="140.2" r="3.4"/><circle cx="95.6" cy="141.9" r="3.4"/><circle cx="99.5" cy="134.5" r="3.4"/><circle cx="111.1" cy="142.6" r="3.4"/><circle cx="105.1" cy="143.5" r="3.4"/><circle cx="113.6" cy="145.6" r="3.4"/><circle cx="107.3" cy="135.0" r="3.4"/><circle cx="105.8" cy="137.7" r="3.4"/><circle cx="115.5" cy="144.9" r="3.4"/><circle cx="111.6" cy="136.6" r="3.4"/><circle cx="114.3" cy="135.8" r="3.4"/><circle cx="104.7" cy="134.6" r="3.4"/><circle cx="115.9" cy="141.3" r="3.4"/><circle cx="105.2" cy="136.7" r="3.4"/><circle cx="115.8" cy="143.8" r="3.4"/><circle cx="103.8" cy="134.5" r="3.4"/><circle cx="125.0" cy="138.7" r="3.4"/><circle cx="125.5" cy="140.9" r="3.4"/><circle cx="117.2" cy="144.5" r="3.4"/><circle cx="119.5" cy="139.2" r="3.4"/><circle cx="118.9" cy="134.9" r="3.4"/><circle cx="122.5" cy="136.1" r="3.4"/><circle cx="122.2" cy="145.1" r="3.4"/><circle cx="118.4" cy="145.1" r="3.4"/><circle cx="115.2" cy="140.8" r="3.4"/><circle cx="117.9" cy="134.9" r="3.4"/><circle cx="125.9" cy="141.2" r="3.4"/><circle cx="116.9" cy="142.6" r="3.4"/><circle cx="113.8" cy="144.2" r="3.4"/><circle cx="135.2" cy="139.7" r="3.4"/><circle cx="125.0" cy="141.7" r="3.4"/><circle cx="130.2" cy="146.4" r="3.4"/><circle cx="125.6" cy="142.8" r="3.4"/><circle cx="133.2" cy="142.3" r="3.4"/><circle cx="134.4" cy="135.4" r="3.4"/><circle cx="134.9" cy="141.0" r="3.4"/><circle cx="135.1" cy="145.6" r="3.4"/><circle cx="134.0" cy="140.1" r="3.4"/><circle cx="130.9" cy="145.9" r="3.4"/><circle cx="136.5" cy="138.1" r="3.4"/><circle cx="130.0" cy="135.2" r="3.4"/><circle cx="127.2" cy="133.6" r="3.4"/><circle cx="130.0" cy="140.6" r="3.4"/><circle cx="133.9" cy="138.2" r="3.4"/><circle cx="135.3" cy="137.1" r="3.4"/><circle cx="131.5" cy="134.0" r="3.4"/><circle cx="145.9" cy="134.1" r="3.4"/><circle cx="144.6" cy="138.9" r="3.4"/><circle cx="140.9" cy="136.5" r="3.4"/><circle cx="142.0" cy="134.1" r="3.4"/><circle cx="141.6" cy="136.6" r="3.4"/><circle cx="142.4" cy="134.1" r="3.4"/><circle cx="139.4" cy="135.0" r="3.4"/><circle cx="141.9" cy="142.6" r="3.4"/><circle cx="138.0" cy="136.9" r="3.4"/><circle cx="144.8" cy="138.9" r="3.4"/><circle cx="144.9" cy="141.7" r="3.4"/><circle cx="137.6" cy="143.5" r="3.4"/><circle cx="139.5" cy="139.0" r="3.4"/><circle cx="140.0" cy="134.5" r="3.4"/><circle cx="151.6" cy="138.1" r="3.4"/><circle cx="144.1" cy="141.2" r="3.4"/><circle cx="156.1" cy="138.9" r="3.4"/><circle cx="151.1" cy="135.2" r="3.4"/><circle cx="150.7" cy="139.7" r="3.4"/><circle cx="153.6" cy="137.1" r="3.4"/><circle cx="156.2" cy="142.1" r="3.4"/><circle cx="149.2" cy="140.4" r="3.4"/><circle cx="147.2" cy="137.0" r="3.4"/><circle cx="154.5" cy="135.2" r="3.4"/><circle cx="154.9" cy="142.9" r="3.4"/><circle cx="151.5" cy="144.9" r="3.4"/><circle cx="154.5" cy="142.2" r="3.4"/><circle cx="150.8" cy="143.2" r="3.4"/><circle cx="148.1" cy="135.4" r="3.4"/><circle cx="164.7" cy="143.8" r="3.4"/><circle cx="159.8" cy="146.1" r="3.4"/><circle cx="156.2" cy="133.9" r="3.4"/><circle cx="165.9" cy="140.6" r="3.4"/><circle cx="153.9" cy="139.5" r="3.4"/><circle cx="160.3" cy="139.4" r="3.4"/><circle cx="161.5" cy="145.2" r="3.4"/><circle cx="155.8" cy="135.2" r="3.4"/><circle cx="154.9" cy="146.3" r="3.4"/><circle cx="164.2" cy="141.1" r="3.4"/><circle cx="166.3" cy="144.1" r="3.4"/><circle cx="161.2" cy="139.9" r="3.4"/><circle cx="158.3" cy="138.0" r="3.4"/><circle cx="165.2" cy="140.6" r="3.4"/><circle cx="169.3" cy="138.8" r="3.4"/><circle cx="170.3" cy="144.8" r="3.4"/><circle cx="167.8" cy="145.3" r="3.4"/><circle cx="164.2" cy="142.4" r="3.4"/><circle cx="166.2" cy="136.2" r="3.4"/><circle cx="168.8" cy="138.7" r="3.4"/><circle cx="177.2" cy="136.5" r="3.4"/><circle cx="181.8" cy="139.3" r="3.4"/><circle cx="184.5" cy="143.9" r="3.4"/><circle cx="185.5" cy="135.5" r="3.4"/><circle cx="195.9" cy="137.0" r="3.4"/><circle cx="184.9" cy="145.9" r="3.4"/><circle cx="192.9" cy="146.0" r="3.4"/><circle cx="195.7" cy="137.1" r="3.4"/><circle cx="213.9" cy="134.6" r="3.4"/><circle cx="104.6" cy="151.0" r="3.4"/><circle cx="99.7" cy="153.1" r="3.4"/><circle cx="111.3" cy="149.3" r="3.4"/><circle cx="107.0" cy="156.0" r="3.4"/><circle cx="112.6" cy="148.3" r="3.4"/><circle cx="113.7" cy="156.0" r="3.4"/><circle cx="110.5" cy="153.6" r="3.4"/><circle cx="108.9" cy="148.6" r="3.4"/><circle cx="107.3" cy="153.9" r="3.4"/><circle cx="106.7" cy="144.9" r="3.4"/><circle cx="125.8" cy="149.8" r="3.4"/><circle cx="117.1" cy="146.8" r="3.4"/><circle cx="123.3" cy="149.2" r="3.4"/><circle cx="116.0" cy="146.4" r="3.4"/><circle cx="114.6" cy="155.5" r="3.4"/><circle cx="115.4" cy="156.4" r="3.4"/><circle cx="113.8" cy="145.7" r="3.4"/><circle cx="118.0" cy="152.8" r="3.4"/><circle cx="120.0" cy="151.8" r="3.4"/><circle cx="124.0" cy="151.4" r="3.4"/><circle cx="126.2" cy="150.6" r="3.4"/><circle cx="114.2" cy="146.0" r="3.4"/><circle cx="119.1" cy="146.3" r="3.4"/><circle cx="114.6" cy="147.5" r="3.4"/><circle cx="114.7" cy="154.8" r="3.4"/><circle cx="119.1" cy="153.8" r="3.4"/><circle cx="123.3" cy="148.4" r="3.4"/><circle cx="134.5" cy="154.0" r="3.4"/><circle cx="132.1" cy="150.7" r="3.4"/><circle cx="134.4" cy="156.2" r="3.4"/><circle cx="134.7" cy="148.4" r="3.4"/><circle cx="131.1" cy="146.7" r="3.4"/><circle cx="125.3" cy="153.2" r="3.4"/><circle cx="126.0" cy="147.4" r="3.4"/><circle cx="133.9" cy="151.5" r="3.4"/><circle cx="129.1" cy="144.9" r="3.4"/><circle cx="136.0" cy="155.4" r="3.4"/><circle cx="124.2" cy="144.9" r="3.4"/><circle cx="134.0" cy="153.4" r="3.4"/><circle cx="136.0" cy="144.3" r="3.4"/><circle cx="129.8" cy="155.6" r="3.4"/><circle cx="129.1" cy="153.5" r="3.4"/><circle cx="124.3" cy="152.7" r="3.4"/><circle cx="124.6" cy="154.8" r="3.4"/><circle cx="127.4" cy="151.4" r="3.4"/><circle cx="134.1" cy="151.6" r="3.4"/><circle cx="134.0" cy="144.3" r="3.4"/><circle cx="144.4" cy="149.4" r="3.4"/><circle cx="135.1" cy="154.8" r="3.4"/><circle cx="146.1" cy="156.2" r="3.4"/><circle cx="135.7" cy="146.8" r="3.4"/><circle cx="144.4" cy="150.0" r="3.4"/><circle cx="136.8" cy="148.5" r="3.4"/><circle cx="140.9" cy="155.1" r="3.4"/><circle cx="139.7" cy="153.1" r="3.4"/><circle cx="144.3" cy="152.3" r="3.4"/><circle cx="136.2" cy="147.8" r="3.4"/><circle cx="143.3" cy="146.1" r="3.4"/><circle cx="137.5" cy="148.0" r="3.4"/><circle cx="146.2" cy="153.8" r="3.4"/><circle cx="139.7" cy="145.6" r="3.4"/><circle cx="138.2" cy="148.4" r="3.4"/><circle cx="137.5" cy="152.0" r="3.4"/><circle cx="141.9" cy="149.7" r="3.4"/><circle cx="144.8" cy="151.6" r="3.4"/><circle cx="137.0" cy="147.2" r="3.4"/><circle cx="146.5" cy="146.2" r="3.4"/><circle cx="147.8" cy="145.7" r="3.4"/><circle cx="149.4" cy="152.0" r="3.4"/><circle cx="145.3" cy="144.3" r="3.4"/><circle cx="155.5" cy="152.1" r="3.4"/><circle cx="155.6" cy="149.2" r="3.4"/><circle cx="151.8" cy="147.4" r="3.4"/><circle cx="155.1" cy="156.4" r="3.4"/><circle cx="148.0" cy="155.0" r="3.4"/><circle cx="143.9" cy="149.7" r="3.4"/><circle cx="152.7" cy="145.9" r="3.4"/><circle cx="155.5" cy="152.2" r="3.4"/><circle cx="156.4" cy="143.7" r="3.4"/><circle cx="156.1" cy="150.2" r="3.4"/><circle cx="146.6" cy="154.5" r="3.4"/><circle cx="156.2" cy="151.9" r="3.4"/><circle cx="150.6" cy="150.5" r="3.4"/><circle cx="153.1" cy="146.4" r="3.4"/><circle cx="149.7" cy="155.9" r="3.4"/><circle cx="148.4" cy="155.4" r="3.4"/><circle cx="162.8" cy="150.4" r="3.4"/><circle cx="161.3" cy="152.5" r="3.4"/><circle cx="163.8" cy="150.1" r="3.4"/><circle cx="161.9" cy="154.7" r="3.4"/><circle cx="162.3" cy="146.9" r="3.4"/><circle cx="155.5" cy="153.6" r="3.4"/><circle cx="154.5" cy="150.0" r="3.4"/><circle cx="164.1" cy="143.7" r="3.4"/><circle cx="156.0" cy="146.7" r="3.4"/><circle cx="156.5" cy="149.6" r="3.4"/><circle cx="156.1" cy="155.3" r="3.4"/><circle cx="153.8" cy="151.7" r="3.4"/><circle cx="162.5" cy="156.2" r="3.4"/><circle cx="165.6" cy="151.0" r="3.4"/><circle cx="165.9" cy="144.4" r="3.4"/><circle cx="164.5" cy="154.9" r="3.4"/><circle cx="159.8" cy="150.6" r="3.4"/><circle cx="160.5" cy="151.8" r="3.4"/><circle cx="169.8" cy="145.1" r="3.4"/><circle cx="168.3" cy="152.3" r="3.4"/><circle cx="170.0" cy="155.2" r="3.4"/><circle cx="164.3" cy="148.2" r="3.4"/><circle cx="168.5" cy="153.3" r="3.4"/><circle cx="164.8" cy="151.4" r="3.4"/><circle cx="167.2" cy="155.7" r="3.4"/><circle cx="174.8" cy="150.7" r="3.4"/><circle cx="170.5" cy="153.0" r="3.4"/><circle cx="176.4" cy="146.5" r="3.4"/><circle cx="164.5" cy="155.4" r="3.4"/><circle cx="164.5" cy="145.7" r="3.4"/><circle cx="168.9" cy="153.1" r="3.4"/><circle cx="176.1" cy="154.7" r="3.4"/><circle cx="181.0" cy="151.6" r="3.4"/><circle cx="182.7" cy="152.3" r="3.4"/><circle cx="179.6" cy="148.8" r="3.4"/><circle cx="181.3" cy="154.3" r="3.4"/><circle cx="182.1" cy="156.5" r="3.4"/><circle cx="177.1" cy="154.2" r="3.4"/><circle cx="183.5" cy="151.1" r="3.4"/><circle cx="193.1" cy="147.2" r="3.4"/><circle cx="195.3" cy="152.8" r="3.4"/><circle cx="197.0" cy="147.5" r="3.4"/><circle cx="205.4" cy="147.5" r="3.4"/><circle cx="214.0" cy="145.6" r="3.4"/><circle cx="88.3" cy="162.4" r="3.4"/><circle cx="114.7" cy="159.0" r="3.4"/><circle cx="109.1" cy="153.6" r="3.4"/><circle cx="124.8" cy="161.4" r="3.4"/><circle cx="125.5" cy="163.4" r="3.4"/><circle cx="116.0" cy="158.0" r="3.4"/><circle cx="125.5" cy="164.9" r="3.4"/><circle cx="119.9" cy="158.3" r="3.4"/><circle cx="124.9" cy="165.2" r="3.4"/><circle cx="125.5" cy="156.5" r="3.4"/><circle cx="132.1" cy="161.1" r="3.4"/><circle cx="133.5" cy="159.9" r="3.4"/><circle cx="130.5" cy="154.3" r="3.4"/><circle cx="132.6" cy="160.3" r="3.4"/><circle cx="136.0" cy="164.3" r="3.4"/><circle cx="127.0" cy="162.8" r="3.4"/><circle cx="126.4" cy="162.7" r="3.4"/><circle cx="123.8" cy="163.5" r="3.4"/><circle cx="131.2" cy="156.5" r="3.4"/><circle cx="134.9" cy="166.3" r="3.4"/><circle cx="139.7" cy="166.1" r="3.4"/><circle cx="144.1" cy="159.2" r="3.4"/><circle cx="138.3" cy="164.8" r="3.4"/><circle cx="144.2" cy="158.7" r="3.4"/><circle cx="141.7" cy="162.6" r="3.4"/><circle cx="134.7" cy="162.3" r="3.4"/><circle cx="134.9" cy="160.1" r="3.4"/><circle cx="142.5" cy="159.8" r="3.4"/><circle cx="147.8" cy="163.0" r="3.4"/><circle cx="154.6" cy="163.7" r="3.4"/><circle cx="151.7" cy="162.3" r="3.4"/><circle cx="149.0" cy="159.3" r="3.4"/><circle cx="146.8" cy="165.8" r="3.4"/><circle cx="145.5" cy="160.1" r="3.4"/><circle cx="153.7" cy="156.8" r="3.4"/><circle cx="147.7" cy="165.7" r="3.4"/><circle cx="146.5" cy="166.4" r="3.4"/><circle cx="145.2" cy="157.3" r="3.4"/><circle cx="149.0" cy="156.9" r="3.4"/><circle cx="152.7" cy="158.0" r="3.4"/><circle cx="160.6" cy="162.3" r="3.4"/><circle cx="158.1" cy="162.4" r="3.4"/><circle cx="158.1" cy="162.4" r="3.4"/><circle cx="165.7" cy="164.3" r="3.4"/><circle cx="159.8" cy="164.2" r="3.4"/><circle cx="154.7" cy="165.9" r="3.4"/><circle cx="155.0" cy="156.2" r="3.4"/><circle cx="172.3" cy="162.9" r="3.4"/><circle cx="176.5" cy="155.6" r="3.4"/><circle cx="165.7" cy="162.0" r="3.4"/><circle cx="175.0" cy="160.2" r="3.4"/><circle cx="173.6" cy="158.7" r="3.4"/><circle cx="175.6" cy="154.0" r="3.4"/><circle cx="171.3" cy="157.4" r="3.4"/><circle cx="175.3" cy="153.7" r="3.4"/><circle cx="163.7" cy="153.9" r="3.4"/><circle cx="172.9" cy="162.5" r="3.4"/><circle cx="177.1" cy="159.1" r="3.4"/><circle cx="185.3" cy="162.4" r="3.4"/><circle cx="197.2" cy="155.9" r="3.4"/><circle cx="214.7" cy="163.1" r="3.4"/><circle cx="106.9" cy="164.3" r="3.4"/><circle cx="117.9" cy="171.9" r="3.4"/><circle cx="116.3" cy="176.1" r="3.4"/><circle cx="117.4" cy="168.0" r="3.4"/><circle cx="124.3" cy="173.8" r="3.4"/><circle cx="124.6" cy="164.5" r="3.4"/><circle cx="135.4" cy="163.6" r="3.4"/><circle cx="129.7" cy="164.1" r="3.4"/><circle cx="128.1" cy="163.5" r="3.4"/><circle cx="132.8" cy="172.0" r="3.4"/><circle cx="125.5" cy="171.7" r="3.4"/><circle cx="132.2" cy="175.3" r="3.4"/><circle cx="137.9" cy="166.8" r="3.4"/><circle cx="140.0" cy="173.7" r="3.4"/><circle cx="144.9" cy="174.3" r="3.4"/><circle cx="133.9" cy="164.6" r="3.4"/><circle cx="144.2" cy="175.5" r="3.4"/><circle cx="136.7" cy="173.9" r="3.4"/><circle cx="146.0" cy="165.5" r="3.4"/><circle cx="154.3" cy="171.6" r="3.4"/><circle cx="146.4" cy="166.4" r="3.4"/><circle cx="146.6" cy="163.6" r="3.4"/><circle cx="165.0" cy="167.4" r="3.4"/><circle cx="154.5" cy="169.2" r="3.4"/><circle cx="165.6" cy="172.7" r="3.4"/><circle cx="162.6" cy="163.9" r="3.4"/><circle cx="163.3" cy="173.7" r="3.4"/><circle cx="170.5" cy="174.7" r="3.4"/><circle cx="172.7" cy="166.4" r="3.4"/><circle cx="176.5" cy="176.1" r="3.4"/><circle cx="191.4" cy="165.8" r="3.4"/><circle cx="195.5" cy="172.3" r="3.4"/><circle cx="198.6" cy="173.6" r="3.4"/><circle cx="194.5" cy="169.6" r="3.4"/><circle cx="123.7" cy="175.8" r="3.4"/><circle cx="126.8" cy="177.5" r="3.4"/><circle cx="130.8" cy="182.5" r="3.4"/><circle cx="133.3" cy="175.2" r="3.4"/><circle cx="135.6" cy="181.8" r="3.4"/><circle cx="137.1" cy="184.1" r="3.4"/><circle cx="145.3" cy="176.8" r="3.4"/><circle cx="143.6" cy="184.0" r="3.4"/><circle cx="145.9" cy="184.9" r="3.4"/><circle cx="143.2" cy="177.4" r="3.4"/><circle cx="148.3" cy="184.1" r="3.4"/><circle cx="147.4" cy="181.9" r="3.4"/><circle cx="147.8" cy="175.6" r="3.4"/><circle cx="146.3" cy="181.4" r="3.4"/><circle cx="148.8" cy="185.4" r="3.4"/><circle cx="166.2" cy="186.1" r="3.4"/><circle cx="165.0" cy="178.6" r="3.4"/><circle cx="165.5" cy="181.0" r="3.4"/><circle cx="189.8" cy="175.8" r="3.4"/><circle cx="205.6" cy="177.6" r="3.4"/><circle cx="111.7" cy="190.8" r="3.4"/><circle cx="135.4" cy="189.4" r="3.4"/><circle cx="130.5" cy="186.8" r="3.4"/><circle cx="135.4" cy="191.1" r="3.4"/><circle cx="133.7" cy="186.3" r="3.4"/><circle cx="138.0" cy="191.7" r="3.4"/><circle cx="152.6" cy="189.0" r="3.4"/><circle cx="146.0" cy="193.0" r="3.4"/><circle cx="148.5" cy="195.6" r="3.4"/><circle cx="143.4" cy="197.2" r="3.4"/><circle cx="141.2" cy="202.6" r="3.4"/><circle cx="159.8" cy="203.3" r="3.4"/></g>
</g>
<rect x="46.7" y="20.3" width="213.40000000000003" height="217.5" fill="none" stroke="#111" stroke-width="1.1"/>
<g stroke="#111" stroke-width="1.1"><line x1="60.00" y1="237.8" x2="60.00" y2="242.60000000000002"/><line x1="145.00" y1="237.8" x2="145.00" y2="242.60000000000002"/><line x1="230.00" y1="237.8" x2="230.00" y2="242.60000000000002"/><line x1="46.7" y1="237.36" x2="41.900000000000006" y2="237.36"/><line x1="46.7" y1="205.64" x2="41.900000000000006" y2="205.64"/><line x1="46.7" y1="173.92" x2="41.900000000000006" y2="173.92"/><line x1="46.7" y1="142.20" x2="41.900000000000006" y2="142.20"/><line x1="46.7" y1="110.48" x2="41.900000000000006" y2="110.48"/><line x1="46.7" y1="78.76" x2="41.900000000000006" y2="78.76"/><line x1="46.7" y1="47.04" x2="41.900000000000006" y2="47.04"/></g>
<g font-family="'DejaVu Sans', sans-serif" font-size="12" fill="#111" stroke="#111" stroke-width="0.25"><text x="60.00" y="255.4" text-anchor="middle">−5</text><text x="145.00" y="255.4" text-anchor="middle">0</text><text x="230.00" y="255.4" text-anchor="middle">5</text><text x="38.10" y="241.96" text-anchor="end">−3</text><text x="38.10" y="210.24" text-anchor="end">−2</text><text x="38.10" y="178.52" text-anchor="end">−1</text><text x="38.10" y="146.80" text-anchor="end">0</text><text x="38.10" y="115.08" text-anchor="end">1</text><text x="38.10" y="83.36" text-anchor="end">2</text><text x="38.10" y="51.64" text-anchor="end">3</text></g>
<g font-family="'Liberation Sans', Arial, sans-serif" font-weight="bold" font-size="13.6" fill="#111"><text x="152.3" y="13.8" text-anchor="middle">PCA</text><text x="145.3" y="275.2" text-anchor="middle">x-PCA</text><text transform="translate(13.9,144.5) rotate(-90)" text-anchor="middle">y-PCA</text></g>
<rect x="52.4" y="26.4" width="101.0" height="40.8" rx="2.5" ry="2.5" fill="#fff" fill-opacity="0.8" stroke="#d0d0d0" stroke-width="1"/>
<circle cx="68.9" cy="38.2" r="3.4" fill="#1f77b4" fill-opacity="0.2" stroke="#1f77b4" stroke-opacity="0.2" stroke-width="1.6"/>
<circle cx="68.9" cy="56.8" r="3.4" fill="#d62728" fill-opacity="0.2" stroke="#d62728" stroke-opacity="0.2" stroke-width="1.6"/>
<g font-family="'DejaVu Sans', sans-serif" font-size="12" fill="#111" stroke="#111" stroke-width="0.25"><text x="91.9" y="41.2">Original</text><text x="91.9" y="59.5">Synthetic</text></g>
<clipPath id="clip_tsne"><rect x="333.6" y="20.3" width="213.5" height="217.5"/></clipPath>
<g clip-path="url(#clip_tsne)">
<g fill="#1f77b4" fill-opacity="0.2" stroke="#1f77b4" stroke-opacity="0.2" stroke-width="1.6"><circle cx="365.9" cy="71.1" r="3.4"/><circle cx="375.9" cy="70.4" r="3.4"/><circle cx="362.3" cy="79.7" r="3.4"/><circle cx="367.3" cy="76.1" r="3.4"/><circle cx="372.3" cy="78.3" r="3.4"/><circle cx="385.1" cy="82.6" r="3.4"/><circle cx="391.6" cy="79.7" r="3.4"/><circle cx="400.1" cy="84.7" r="3.4"/><circle cx="405.1" cy="86.9" r="3.4"/><circle cx="367.3" cy="90.4" r="3.4"/><circle cx="385.9" cy="86.9" r="3.4"/><circle cx="388.7" cy="84.7" r="3.4"/><circle cx="405.9" cy="90.4" r="3.4"/><circle cx="358.7" cy="93.3" r="3.4"/><circle cx="356.6" cy="102.6" r="3.4"/><circle cx="367.3" cy="95.4" r="3.4"/><circle cx="380.0" cy="102.0" r="3.4"/><circle cx="395.9" cy="98.3" r="3.4"/><circle cx="451.3" cy="29.4" r="3.4"/><circle cx="443.9" cy="46.9" r="3.4"/><circle cx="448.4" cy="46.1" r="3.4"/><circle cx="456.4" cy="47.1" r="3.4"/><circle cx="465.0" cy="52.3" r="3.4"/><circle cx="443.1" cy="58.3" r="3.4"/><circle cx="477.4" cy="59.4" r="3.4"/><circle cx="476.0" cy="62.6" r="3.4"/><circle cx="430.0" cy="53.0" r="3.4"/><circle cx="425.0" cy="62.0" r="3.4"/><circle cx="436.0" cy="70.4" r="3.4"/><circle cx="441.7" cy="69.7" r="3.4"/><circle cx="458.9" cy="74.7" r="3.4"/><circle cx="476.0" cy="66.9" r="3.4"/><circle cx="483.9" cy="74.0" r="3.4"/><circle cx="414.6" cy="78.3" r="3.4"/><circle cx="425.3" cy="78.3" r="3.4"/><circle cx="438.9" cy="78.3" r="3.4"/><circle cx="446.0" cy="82.6" r="3.4"/><circle cx="463.1" cy="84.0" r="3.4"/><circle cx="485.3" cy="81.1" r="3.4"/><circle cx="414.6" cy="83.3" r="3.4"/><circle cx="414.6" cy="92.6" r="3.4"/><circle cx="438.9" cy="85.4" r="3.4"/><circle cx="453.9" cy="91.1" r="3.4"/><circle cx="474.6" cy="85.4" r="3.4"/><circle cx="481.0" cy="89.7" r="3.4"/><circle cx="428.9" cy="100.4" r="3.4"/><circle cx="445.3" cy="97.6" r="3.4"/><circle cx="461.0" cy="94.7" r="3.4"/><circle cx="471.0" cy="98.3" r="3.4"/><circle cx="494.3" cy="77.6" r="3.4"/><circle cx="500.7" cy="84.0" r="3.4"/><circle cx="495.0" cy="86.9" r="3.4"/><circle cx="503.6" cy="95.4" r="3.4"/><circle cx="510.0" cy="99.7" r="3.4"/><circle cx="487.0" cy="97.6" r="3.4"/><circle cx="485.7" cy="76.1" r="3.4"/><circle cx="494.3" cy="111.1" r="3.4"/><circle cx="522.1" cy="110.0" r="3.4"/><circle cx="527.9" cy="118.3" r="3.4"/><circle cx="511.4" cy="112.6" r="3.4"/><circle cx="506.4" cy="123.3" r="3.4"/><circle cx="517.1" cy="124.0" r="3.4"/><circle cx="530.0" cy="129.7" r="3.4"/><circle cx="509.3" cy="134.0" r="3.4"/><circle cx="531.4" cy="135.4" r="3.4"/><circle cx="536.4" cy="141.9" r="3.4"/><circle cx="495.7" cy="138.3" r="3.4"/><circle cx="490.7" cy="121.9" r="3.4"/><circle cx="375.9" cy="106.9" r="3.4"/><circle cx="380.1" cy="109.0" r="3.4"/><circle cx="407.3" cy="107.6" r="3.4"/><circle cx="341.6" cy="110.4" r="3.4"/><circle cx="347.3" cy="111.9" r="3.4"/><circle cx="353.7" cy="112.6" r="3.4"/><circle cx="358.0" cy="115.4" r="3.4"/><circle cx="366.6" cy="114.0" r="3.4"/><circle cx="403.0" cy="111.9" r="3.4"/><circle cx="352.3" cy="118.3" r="3.4"/><circle cx="365.1" cy="121.1" r="3.4"/><circle cx="380.1" cy="121.9" r="3.4"/><circle cx="389.4" cy="119.7" r="3.4"/><circle cx="404.4" cy="119.7" r="3.4"/><circle cx="345.9" cy="125.4" r="3.4"/><circle cx="363.0" cy="126.1" r="3.4"/><circle cx="383.0" cy="127.6" r="3.4"/><circle cx="342.3" cy="130.4" r="3.4"/><circle cx="367.3" cy="132.6" r="3.4"/><circle cx="388.0" cy="134.7" r="3.4"/><circle cx="404.4" cy="131.9" r="3.4"/><circle cx="343.7" cy="135.4" r="3.4"/><circle cx="344.4" cy="141.9" r="3.4"/><circle cx="363.0" cy="141.1" r="3.4"/><circle cx="384.4" cy="139.7" r="3.4"/><circle cx="400.1" cy="139.0" r="3.4"/><circle cx="423.9" cy="106.9" r="3.4"/><circle cx="443.1" cy="105.4" r="3.4"/><circle cx="478.1" cy="106.9" r="3.4"/><circle cx="413.1" cy="114.0" r="3.4"/><circle cx="426.0" cy="118.3" r="3.4"/><circle cx="451.7" cy="114.0" r="3.4"/><circle cx="459.6" cy="115.4" r="3.4"/><circle cx="480.3" cy="114.7" r="3.4"/><circle cx="485.3" cy="119.0" r="3.4"/><circle cx="446.7" cy="128.3" r="3.4"/><circle cx="468.1" cy="126.1" r="3.4"/><circle cx="476.0" cy="129.7" r="3.4"/><circle cx="413.1" cy="134.7" r="3.4"/><circle cx="428.1" cy="133.3" r="3.4"/><circle cx="440.3" cy="136.9" r="3.4"/><circle cx="465.3" cy="140.4" r="3.4"/><circle cx="468.1" cy="136.1" r="3.4"/><circle cx="478.1" cy="138.3" r="3.4"/><circle cx="344.4" cy="146.1" r="3.4"/><circle cx="386.6" cy="149.7" r="3.4"/><circle cx="390.1" cy="152.6" r="3.4"/><circle cx="366.6" cy="154.7" r="3.4"/><circle cx="376.6" cy="156.1" r="3.4"/><circle cx="370.9" cy="161.1" r="3.4"/><circle cx="408.7" cy="154.0" r="3.4"/><circle cx="365.9" cy="174.0" r="3.4"/><circle cx="386.6" cy="172.6" r="3.4"/><circle cx="378.7" cy="178.3" r="3.4"/><circle cx="403.0" cy="172.6" r="3.4"/><circle cx="407.3" cy="176.9" r="3.4"/><circle cx="379.0" cy="178.4" r="3.4"/><circle cx="366.0" cy="174.0" r="3.4"/><circle cx="426.7" cy="146.1" r="3.4"/><circle cx="447.4" cy="145.4" r="3.4"/><circle cx="458.1" cy="149.7" r="3.4"/><circle cx="481.0" cy="146.9" r="3.4"/><circle cx="413.1" cy="158.3" r="3.4"/><circle cx="433.1" cy="161.1" r="3.4"/><circle cx="459.6" cy="157.6" r="3.4"/><circle cx="476.0" cy="158.3" r="3.4"/><circle cx="414.6" cy="169.0" r="3.4"/><circle cx="428.1" cy="164.0" r="3.4"/><circle cx="432.4" cy="170.4" r="3.4"/><circle cx="458.1" cy="168.3" r="3.4"/><circle cx="478.1" cy="169.7" r="3.4"/><circle cx="422.4" cy="179.0" r="3.4"/><circle cx="441.7" cy="181.1" r="3.4"/><circle cx="465.3" cy="181.1" r="3.4"/><circle cx="476.0" cy="176.1" r="3.4"/><circle cx="497.9" cy="148.3" r="3.4"/><circle cx="521.4" cy="148.3" r="3.4"/><circle cx="536.4" cy="145.4" r="3.4"/><circle cx="494.3" cy="151.9" r="3.4"/><circle cx="516.4" cy="152.6" r="3.4"/><circle cx="521.4" cy="158.3" r="3.4"/><circle cx="514.3" cy="162.6" r="3.4"/><circle cx="500.0" cy="164.7" r="3.4"/><circle cx="511.4" cy="168.3" r="3.4"/><circle cx="521.4" cy="169.7" r="3.4"/><circle cx="494.3" cy="171.9" r="3.4"/><circle cx="508.6" cy="174.0" r="3.4"/><circle cx="515.7" cy="173.3" r="3.4"/><circle cx="520.0" cy="176.9" r="3.4"/><circle cx="413.6" cy="189.7" r="3.4"/><circle cx="407.9" cy="199.7" r="3.4"/><circle cx="414.3" cy="206.1" r="3.4"/><circle cx="429.3" cy="196.1" r="3.4"/><circle cx="435.0" cy="191.9" r="3.4"/><circle cx="426.4" cy="207.6" r="3.4"/><circle cx="421.4" cy="214.7" r="3.4"/><circle cx="410.7" cy="218.3" r="3.4"/><circle cx="442.9" cy="197.6" r="3.4"/><circle cx="447.1" cy="192.6" r="3.4"/><circle cx="450.7" cy="202.6" r="3.4"/><circle cx="453.6" cy="194.0" r="3.4"/><circle cx="450.7" cy="221.1" r="3.4"/><circle cx="462.9" cy="199.7" r="3.4"/><circle cx="468.6" cy="201.1" r="3.4"/><circle cx="472.9" cy="214.0" r="3.4"/><circle cx="467.1" cy="218.3" r="3.4"/><circle cx="460.0" cy="186.1" r="3.4"/><circle cx="497.9" cy="186.9" r="3.4"/><circle cx="508.6" cy="189.7" r="3.4"/><circle cx="515.0" cy="191.1" r="3.4"/><circle cx="487.1" cy="199.0" r="3.4"/><circle cx="472.1" cy="201.9" r="3.4"/><circle cx="482.1" cy="209.0" r="3.4"/><circle cx="490.0" cy="211.9" r="3.4"/><circle cx="474.3" cy="214.7" r="3.4"/><circle cx="423.0" cy="226.4" r="3.4"/><circle cx="432.4" cy="224.6" r="3.4"/><circle cx="454.4" cy="225.6" r="3.4"/><circle cx="519.3" cy="128.9" r="3.4"/><circle cx="506.5" cy="97.8" r="3.4"/><circle cx="451.8" cy="195.2" r="3.4"/><circle cx="462.2" cy="108.5" r="3.4"/><circle cx="482.4" cy="79.6" r="3.4"/><circle cx="380.9" cy="105.7" r="3.4"/><circle cx="464.6" cy="138.3" r="3.4"/><circle cx="472.7" cy="209.5" r="3.4"/><circle cx="446.6" cy="130.1" r="3.4"/><circle cx="344.4" cy="135.7" r="3.4"/><circle cx="516.2" cy="156.6" r="3.4"/><circle cx="499.4" cy="163.6" r="3.4"/><circle cx="507.5" cy="116.4" r="3.4"/><circle cx="531.7" cy="147.1" r="3.4"/><circle cx="406.1" cy="95.3" r="3.4"/><circle cx="436.3" cy="197.5" r="3.4"/><circle cx="477.4" cy="177.6" r="3.4"/><circle cx="453.6" cy="114.4" r="3.4"/><circle cx="462.9" cy="195.3" r="3.4"/><circle cx="434.7" cy="146.1" r="3.4"/><circle cx="467.3" cy="135.0" r="3.4"/><circle cx="403.0" cy="140.0" r="3.4"/><circle cx="367.1" cy="96.0" r="3.4"/><circle cx="453.6" cy="55.2" r="3.4"/><circle cx="397.0" cy="143.4" r="3.4"/><circle cx="347.8" cy="145.7" r="3.4"/><circle cx="375.6" cy="111.3" r="3.4"/><circle cx="478.6" cy="59.7" r="3.4"/><circle cx="440.9" cy="67.7" r="3.4"/><circle cx="492.2" cy="79.6" r="3.4"/><circle cx="515.4" cy="153.5" r="3.4"/><circle cx="417.5" cy="81.1" r="3.4"/><circle cx="510.2" cy="177.5" r="3.4"/><circle cx="401.6" cy="122.0" r="3.4"/><circle cx="468.1" cy="201.9" r="3.4"/><circle cx="461.3" cy="94.2" r="3.4"/><circle cx="520.2" cy="152.5" r="3.4"/><circle cx="369.8" cy="93.3" r="3.4"/><circle cx="357.3" cy="112.4" r="3.4"/><circle cx="438.8" cy="76.7" r="3.4"/><circle cx="465.1" cy="201.4" r="3.4"/><circle cx="425.7" cy="148.7" r="3.4"/><circle cx="445.9" cy="80.5" r="3.4"/><circle cx="371.2" cy="91.7" r="3.4"/><circle cx="378.4" cy="90.2" r="3.4"/><circle cx="519.3" cy="124.7" r="3.4"/><circle cx="364.7" cy="89.3" r="3.4"/><circle cx="370.9" cy="78.6" r="3.4"/><circle cx="444.6" cy="128.2" r="3.4"/><circle cx="461.2" cy="117.0" r="3.4"/><circle cx="378.7" cy="73.2" r="3.4"/><circle cx="442.9" cy="201.6" r="3.4"/><circle cx="481.9" cy="170.6" r="3.4"/><circle cx="353.6" cy="116.6" r="3.4"/><circle cx="441.9" cy="201.3" r="3.4"/><circle cx="406.9" cy="122.4" r="3.4"/><circle cx="437.1" cy="75.6" r="3.4"/><circle cx="528.7" cy="136.6" r="3.4"/><circle cx="394.9" cy="141.8" r="3.4"/><circle cx="344.4" cy="116.4" r="3.4"/><circle cx="448.4" cy="69.1" r="3.4"/><circle cx="361.3" cy="136.1" r="3.4"/><circle cx="486.9" cy="88.9" r="3.4"/><circle cx="441.1" cy="159.3" r="3.4"/><circle cx="352.3" cy="130.3" r="3.4"/><circle cx="375.7" cy="126.3" r="3.4"/><circle cx="427.7" cy="149.5" r="3.4"/><circle cx="478.0" cy="203.6" r="3.4"/><circle cx="385.9" cy="80.7" r="3.4"/><circle cx="385.8" cy="154.5" r="3.4"/><circle cx="396.5" cy="96.8" r="3.4"/><circle cx="427.6" cy="195.9" r="3.4"/><circle cx="418.1" cy="185.1" r="3.4"/><circle cx="396.4" cy="141.8" r="3.4"/><circle cx="428.5" cy="182.0" r="3.4"/><circle cx="403.3" cy="162.9" r="3.4"/><circle cx="455.8" cy="196.8" r="3.4"/><circle cx="531.9" cy="131.7" r="3.4"/><circle cx="472.2" cy="108.0" r="3.4"/><circle cx="460.7" cy="193.9" r="3.4"/><circle cx="436.5" cy="46.2" r="3.4"/><circle cx="510.8" cy="110.9" r="3.4"/><circle cx="477.6" cy="136.7" r="3.4"/><circle cx="460.5" cy="187.3" r="3.4"/><circle cx="349.3" cy="147.3" r="3.4"/><circle cx="405.2" cy="89.1" r="3.4"/><circle cx="361.8" cy="100.1" r="3.4"/><circle cx="363.1" cy="120.1" r="3.4"/><circle cx="487.2" cy="61.0" r="3.4"/><circle cx="424.2" cy="79.0" r="3.4"/><circle cx="475.3" cy="205.0" r="3.4"/><circle cx="377.4" cy="174.8" r="3.4"/><circle cx="357.9" cy="133.9" r="3.4"/><circle cx="494.3" cy="172.5" r="3.4"/><circle cx="403.6" cy="114.9" r="3.4"/><circle cx="452.8" cy="110.1" r="3.4"/><circle cx="437.3" cy="64.7" r="3.4"/><circle cx="437.2" cy="46.3" r="3.4"/><circle cx="442.8" cy="177.9" r="3.4"/><circle cx="498.0" cy="170.0" r="3.4"/><circle cx="453.2" cy="83.8" r="3.4"/><circle cx="370.5" cy="89.8" r="3.4"/><circle cx="506.8" cy="190.6" r="3.4"/><circle cx="475.0" cy="161.4" r="3.4"/><circle cx="513.3" cy="106.9" r="3.4"/><circle cx="486.8" cy="88.0" r="3.4"/><circle cx="478.2" cy="65.6" r="3.4"/><circle cx="528.8" cy="130.2" r="3.4"/><circle cx="387.3" cy="133.9" r="3.4"/><circle cx="513.9" cy="158.3" r="3.4"/><circle cx="471.7" cy="173.6" r="3.4"/><circle cx="410.4" cy="181.7" r="3.4"/><circle cx="443.5" cy="163.8" r="3.4"/><circle cx="477.1" cy="139.1" r="3.4"/><circle cx="452.5" cy="203.5" r="3.4"/><circle cx="493.3" cy="97.8" r="3.4"/><circle cx="493.5" cy="109.3" r="3.4"/><circle cx="473.8" cy="178.8" r="3.4"/><circle cx="369.4" cy="130.7" r="3.4"/><circle cx="443.3" cy="74.9" r="3.4"/><circle cx="508.9" cy="179.4" r="3.4"/><circle cx="464.9" cy="134.6" r="3.4"/><circle cx="399.0" cy="98.6" r="3.4"/><circle cx="358.1" cy="95.9" r="3.4"/><circle cx="431.9" cy="164.4" r="3.4"/><circle cx="458.1" cy="171.9" r="3.4"/><circle cx="397.3" cy="119.8" r="3.4"/><circle cx="378.9" cy="85.6" r="3.4"/><circle cx="472.4" cy="109.4" r="3.4"/><circle cx="384.2" cy="118.4" r="3.4"/><circle cx="437.3" cy="70.9" r="3.4"/><circle cx="480.3" cy="203.0" r="3.4"/><circle cx="476.0" cy="67.1" r="3.4"/><circle cx="388.7" cy="117.4" r="3.4"/><circle cx="469.0" cy="136.6" r="3.4"/><circle cx="364.0" cy="126.0" r="3.4"/><circle cx="463.5" cy="81.2" r="3.4"/><circle cx="451.8" cy="43.7" r="3.4"/><circle cx="373.5" cy="85.5" r="3.4"/><circle cx="478.6" cy="70.4" r="3.4"/><circle cx="393.4" cy="131.7" r="3.4"/><circle cx="367.9" cy="81.8" r="3.4"/><circle cx="488.5" cy="177.2" r="3.4"/><circle cx="368.0" cy="84.9" r="3.4"/><circle cx="405.4" cy="111.7" r="3.4"/><circle cx="383.5" cy="122.9" r="3.4"/><circle cx="450.0" cy="191.2" r="3.4"/><circle cx="342.2" cy="132.7" r="3.4"/><circle cx="464.0" cy="130.1" r="3.4"/><circle cx="396.2" cy="107.8" r="3.4"/><circle cx="413.5" cy="91.1" r="3.4"/><circle cx="424.5" cy="96.4" r="3.4"/><circle cx="445.9" cy="44.9" r="3.4"/><circle cx="400.0" cy="102.0" r="3.4"/><circle cx="443.7" cy="69.3" r="3.4"/><circle cx="357.2" cy="102.5" r="3.4"/><circle cx="386.5" cy="134.6" r="3.4"/><circle cx="502.1" cy="142.1" r="3.4"/><circle cx="351.7" cy="153.9" r="3.4"/><circle cx="464.9" cy="169.5" r="3.4"/><circle cx="444.3" cy="56.1" r="3.4"/><circle cx="369.3" cy="172.4" r="3.4"/><circle cx="346.7" cy="107.9" r="3.4"/><circle cx="352.2" cy="116.0" r="3.4"/><circle cx="407.6" cy="153.2" r="3.4"/><circle cx="512.5" cy="140.2" r="3.4"/><circle cx="448.1" cy="145.7" r="3.4"/><circle cx="470.3" cy="143.5" r="3.4"/><circle cx="477.4" cy="70.3" r="3.4"/><circle cx="437.6" cy="53.4" r="3.4"/><circle cx="405.9" cy="155.4" r="3.4"/><circle cx="472.1" cy="208.8" r="3.4"/><circle cx="485.8" cy="130.6" r="3.4"/><circle cx="505.6" cy="123.4" r="3.4"/><circle cx="439.3" cy="91.7" r="3.4"/><circle cx="469.7" cy="189.6" r="3.4"/><circle cx="452.2" cy="150.9" r="3.4"/><circle cx="348.0" cy="125.6" r="3.4"/><circle cx="470.4" cy="201.0" r="3.4"/><circle cx="455.5" cy="197.0" r="3.4"/><circle cx="353.8" cy="100.0" r="3.4"/><circle cx="437.6" cy="144.0" r="3.4"/><circle cx="512.1" cy="135.4" r="3.4"/><circle cx="394.5" cy="102.4" r="3.4"/><circle cx="447.7" cy="45.4" r="3.4"/><circle cx="470.1" cy="162.1" r="3.4"/><circle cx="423.6" cy="179.4" r="3.4"/><circle cx="467.9" cy="139.3" r="3.4"/><circle cx="452.0" cy="111.3" r="3.4"/><circle cx="396.1" cy="131.6" r="3.4"/><circle cx="486.0" cy="125.2" r="3.4"/><circle cx="471.3" cy="136.6" r="3.4"/><circle cx="420.1" cy="145.9" r="3.4"/><circle cx="418.6" cy="85.0" r="3.4"/><circle cx="469.5" cy="135.9" r="3.4"/><circle cx="373.1" cy="77.6" r="3.4"/><circle cx="360.1" cy="98.3" r="3.4"/><circle cx="455.7" cy="59.4" r="3.4"/><circle cx="519.5" cy="125.4" r="3.4"/><circle cx="372.3" cy="94.4" r="3.4"/><circle cx="501.7" cy="89.2" r="3.4"/><circle cx="476.2" cy="87.5" r="3.4"/><circle cx="414.8" cy="104.9" r="3.4"/><circle cx="470.0" cy="202.0" r="3.4"/><circle cx="369.4" cy="116.2" r="3.4"/><circle cx="390.6" cy="85.2" r="3.4"/><circle cx="480.2" cy="103.1" r="3.4"/><circle cx="502.6" cy="124.3" r="3.4"/><circle cx="492.8" cy="99.3" r="3.4"/><circle cx="529.5" cy="122.8" r="3.4"/><circle cx="497.8" cy="137.0" r="3.4"/><circle cx="472.2" cy="204.8" r="3.4"/><circle cx="494.7" cy="186.4" r="3.4"/><circle cx="417.8" cy="169.7" r="3.4"/><circle cx="497.0" cy="162.2" r="3.4"/><circle cx="379.4" cy="134.9" r="3.4"/><circle cx="460.7" cy="182.6" r="3.4"/><circle cx="414.8" cy="122.1" r="3.4"/><circle cx="464.8" cy="178.6" r="3.4"/><circle cx="507.6" cy="124.5" r="3.4"/><circle cx="348.7" cy="130.3" r="3.4"/><circle cx="487.0" cy="123.0" r="3.4"/><circle cx="365.8" cy="90.8" r="3.4"/><circle cx="453.9" cy="165.5" r="3.4"/><circle cx="421.4" cy="97.5" r="3.4"/><circle cx="460.0" cy="55.9" r="3.4"/><circle cx="526.1" cy="121.9" r="3.4"/><circle cx="528.5" cy="133.1" r="3.4"/><circle cx="461.6" cy="55.1" r="3.4"/><circle cx="431.8" cy="197.2" r="3.4"/><circle cx="450.4" cy="49.5" r="3.4"/><circle cx="515.1" cy="162.6" r="3.4"/><circle cx="426.3" cy="87.5" r="3.4"/><circle cx="496.7" cy="179.4" r="3.4"/><circle cx="480.9" cy="177.1" r="3.4"/><circle cx="471.5" cy="159.4" r="3.4"/><circle cx="380.2" cy="115.8" r="3.4"/><circle cx="489.2" cy="196.9" r="3.4"/><circle cx="473.1" cy="207.3" r="3.4"/><circle cx="476.6" cy="82.3" r="3.4"/><circle cx="349.7" cy="101.0" r="3.4"/><circle cx="386.0" cy="138.3" r="3.4"/><circle cx="353.3" cy="130.1" r="3.4"/><circle cx="436.3" cy="76.6" r="3.4"/><circle cx="412.3" cy="102.2" r="3.4"/><circle cx="490.4" cy="120.3" r="3.4"/><circle cx="505.7" cy="123.0" r="3.4"/><circle cx="376.8" cy="128.7" r="3.4"/><circle cx="472.2" cy="108.7" r="3.4"/><circle cx="364.4" cy="111.1" r="3.4"/><circle cx="399.9" cy="94.2" r="3.4"/><circle cx="366.1" cy="75.1" r="3.4"/><circle cx="445.6" cy="194.5" r="3.4"/><circle cx="498.2" cy="150.2" r="3.4"/><circle cx="406.4" cy="176.7" r="3.4"/><circle cx="468.9" cy="77.0" r="3.4"/><circle cx="373.4" cy="73.8" r="3.4"/><circle cx="444.7" cy="131.6" r="3.4"/><circle cx="399.3" cy="127.5" r="3.4"/><circle cx="392.4" cy="164.8" r="3.4"/><circle cx="406.7" cy="91.5" r="3.4"/><circle cx="470.2" cy="86.6" r="3.4"/><circle cx="466.6" cy="158.1" r="3.4"/><circle cx="460.9" cy="51.0" r="3.4"/><circle cx="469.4" cy="108.1" r="3.4"/><circle cx="469.5" cy="87.4" r="3.4"/><circle cx="404.0" cy="86.7" r="3.4"/></g>
<g fill="#d62728" fill-opacity="0.2" stroke="#d62728" stroke-opacity="0.2" stroke-width="1.6"><circle cx="373.0" cy="71.1" r="3.4"/><circle cx="383.7" cy="71.9" r="3.4"/><circle cx="403.0" cy="72.6" r="3.4"/><circle cx="370.0" cy="77.0" r="3.4"/><circle cx="375.9" cy="81.1" r="3.4"/><circle cx="393.0" cy="81.9" r="3.4"/><circle cx="368.7" cy="85.4" r="3.4"/><circle cx="373.0" cy="84.0" r="3.4"/><circle cx="375.9" cy="86.9" r="3.4"/><circle cx="373.0" cy="90.4" r="3.4"/><circle cx="377.3" cy="92.6" r="3.4"/><circle cx="395.9" cy="89.7" r="3.4"/><circle cx="398.7" cy="91.9" r="3.4"/><circle cx="352.3" cy="90.4" r="3.4"/><circle cx="390.0" cy="94.0" r="3.4"/><circle cx="352.3" cy="98.3" r="3.4"/><circle cx="360.9" cy="101.1" r="3.4"/><circle cx="371.6" cy="96.9" r="3.4"/><circle cx="375.9" cy="99.7" r="3.4"/><circle cx="385.9" cy="98.3" r="3.4"/><circle cx="393.0" cy="100.4" r="3.4"/><circle cx="400.0" cy="101.0" r="3.4"/><circle cx="408.0" cy="98.3" r="3.4"/><circle cx="449.9" cy="36.1" r="3.4"/><circle cx="446.0" cy="40.9" r="3.4"/><circle cx="433.9" cy="38.3" r="3.4"/><circle cx="448.4" cy="51.1" r="3.4"/><circle cx="466.0" cy="58.0" r="3.4"/><circle cx="444.6" cy="54.7" r="3.4"/><circle cx="446.7" cy="59.0" r="3.4"/><circle cx="452.4" cy="61.9" r="3.4"/><circle cx="458.0" cy="62.6" r="3.4"/><circle cx="485.0" cy="58.0" r="3.4"/><circle cx="432.0" cy="39.0" r="3.4"/><circle cx="436.0" cy="47.0" r="3.4"/><circle cx="437.0" cy="58.0" r="3.4"/><circle cx="376.0" cy="63.0" r="3.4"/><circle cx="418.0" cy="64.0" r="3.4"/><circle cx="415.3" cy="71.1" r="3.4"/><circle cx="424.6" cy="70.4" r="3.4"/><circle cx="445.3" cy="66.1" r="3.4"/><circle cx="448.9" cy="68.3" r="3.4"/><circle cx="458.1" cy="65.4" r="3.4"/><circle cx="471.0" cy="71.9" r="3.4"/><circle cx="478.9" cy="69.0" r="3.4"/><circle cx="421.0" cy="75.4" r="3.4"/><circle cx="428.9" cy="80.4" r="3.4"/><circle cx="432.4" cy="82.6" r="3.4"/><circle cx="426.7" cy="84.0" r="3.4"/><circle cx="443.1" cy="75.4" r="3.4"/><circle cx="448.9" cy="77.6" r="3.4"/><circle cx="458.1" cy="83.3" r="3.4"/><circle cx="468.1" cy="78.3" r="3.4"/><circle cx="473.9" cy="76.1" r="3.4"/><circle cx="477.4" cy="79.7" r="3.4"/><circle cx="418.9" cy="86.9" r="3.4"/><circle cx="423.1" cy="91.1" r="3.4"/><circle cx="431.0" cy="86.9" r="3.4"/><circle cx="442.4" cy="88.3" r="3.4"/><circle cx="448.9" cy="86.1" r="3.4"/><circle cx="448.9" cy="90.4" r="3.4"/><circle cx="467.4" cy="90.4" r="3.4"/><circle cx="476.7" cy="87.6" r="3.4"/><circle cx="486.0" cy="87.6" r="3.4"/><circle cx="421.7" cy="96.9" r="3.4"/><circle cx="436.0" cy="99.7" r="3.4"/><circle cx="451.7" cy="99.7" r="3.4"/><circle cx="463.9" cy="98.3" r="3.4"/><circle cx="476.7" cy="96.1" r="3.4"/><circle cx="483.1" cy="99.0" r="3.4"/><circle cx="412.4" cy="99.7" r="3.4"/><circle cx="500.0" cy="81.9" r="3.4"/><circle cx="490.0" cy="87.6" r="3.4"/><circle cx="497.1" cy="94.7" r="3.4"/><circle cx="492.9" cy="99.7" r="3.4"/><circle cx="488.0" cy="92.0" r="3.4"/><circle cx="501.4" cy="106.1" r="3.4"/><circle cx="524.3" cy="118.3" r="3.4"/><circle cx="498.6" cy="116.9" r="3.4"/><circle cx="503.6" cy="114.7" r="3.4"/><circle cx="508.6" cy="116.1" r="3.4"/><circle cx="514.3" cy="119.7" r="3.4"/><circle cx="497.1" cy="122.6" r="3.4"/><circle cx="504.3" cy="121.1" r="3.4"/><circle cx="510.0" cy="124.7" r="3.4"/><circle cx="521.4" cy="127.6" r="3.4"/><circle cx="534.3" cy="126.9" r="3.4"/><circle cx="500.0" cy="129.0" r="3.4"/><circle cx="505.0" cy="130.4" r="3.4"/><circle cx="515.0" cy="131.9" r="3.4"/><circle cx="520.0" cy="134.7" r="3.4"/><circle cx="525.7" cy="132.6" r="3.4"/><circle cx="532.1" cy="139.0" r="3.4"/><circle cx="493.6" cy="132.6" r="3.4"/><circle cx="505.0" cy="138.3" r="3.4"/><circle cx="510.7" cy="140.4" r="3.4"/><circle cx="517.1" cy="139.0" r="3.4"/><circle cx="522.9" cy="141.9" r="3.4"/><circle cx="350.1" cy="106.1" r="3.4"/><circle cx="361.6" cy="105.4" r="3.4"/><circle cx="367.3" cy="107.6" r="3.4"/><circle cx="388.7" cy="106.9" r="3.4"/><circle cx="393.0" cy="109.7" r="3.4"/><circle cx="400.1" cy="106.1" r="3.4"/><circle cx="363.7" cy="112.6" r="3.4"/><circle cx="371.6" cy="111.9" r="3.4"/><circle cx="377.3" cy="114.7" r="3.4"/><circle cx="383.0" cy="112.6" r="3.4"/><circle cx="393.0" cy="115.4" r="3.4"/><circle cx="405.9" cy="115.4" r="3.4"/><circle cx="343.7" cy="119.0" r="3.4"/><circle cx="359.4" cy="119.7" r="3.4"/><circle cx="368.7" cy="122.6" r="3.4"/><circle cx="373.7" cy="120.4" r="3.4"/><circle cx="384.4" cy="124.0" r="3.4"/><circle cx="394.4" cy="118.3" r="3.4"/><circle cx="398.0" cy="121.9" r="3.4"/><circle cx="408.7" cy="123.3" r="3.4"/><circle cx="351.6" cy="126.9" r="3.4"/><circle cx="355.9" cy="124.7" r="3.4"/><circle cx="375.9" cy="126.9" r="3.4"/><circle cx="391.6" cy="126.9" r="3.4"/><circle cx="400.1" cy="127.6" r="3.4"/><circle cx="353.0" cy="131.1" r="3.4"/><circle cx="358.0" cy="132.6" r="3.4"/><circle cx="368.7" cy="136.9" r="3.4"/><circle cx="375.9" cy="134.0" r="3.4"/><circle cx="381.6" cy="131.9" r="3.4"/><circle cx="393.0" cy="132.6" r="3.4"/><circle cx="398.0" cy="131.1" r="3.4"/><circle cx="408.7" cy="134.0" r="3.4"/><circle cx="348.7" cy="136.1" r="3.4"/><circle cx="360.1" cy="136.9" r="3.4"/><circle cx="351.6" cy="140.4" r="3.4"/><circle cx="371.6" cy="139.7" r="3.4"/><circle cx="378.7" cy="141.9" r="3.4"/><circle cx="393.0" cy="140.4" r="3.4"/><circle cx="405.1" cy="141.9" r="3.4"/><circle cx="415.3" cy="105.4" r="3.4"/><circle cx="425.3" cy="109.7" r="3.4"/><circle cx="433.9" cy="108.3" r="3.4"/><circle cx="448.1" cy="109.7" r="3.4"/><circle cx="459.6" cy="106.1" r="3.4"/><circle cx="465.3" cy="109.7" r="3.4"/><circle cx="473.9" cy="108.3" r="3.4"/><circle cx="485.3" cy="110.4" r="3.4"/><circle cx="419.6" cy="115.4" r="3.4"/><circle cx="436.0" cy="114.7" r="3.4"/><circle cx="444.6" cy="116.9" r="3.4"/><circle cx="456.0" cy="118.3" r="3.4"/><circle cx="467.4" cy="116.1" r="3.4"/><circle cx="473.9" cy="116.9" r="3.4"/><circle cx="413.9" cy="124.0" r="3.4"/><circle cx="418.9" cy="126.9" r="3.4"/><circle cx="427.4" cy="126.1" r="3.4"/><circle cx="437.4" cy="122.6" r="3.4"/><circle cx="439.6" cy="126.9" r="3.4"/><circle cx="446.7" cy="122.6" r="3.4"/><circle cx="452.4" cy="125.4" r="3.4"/><circle cx="458.9" cy="124.7" r="3.4"/><circle cx="460.3" cy="129.7" r="3.4"/><circle cx="481.7" cy="130.4" r="3.4"/><circle cx="421.7" cy="134.0" r="3.4"/><circle cx="434.6" cy="131.9" r="3.4"/><circle cx="445.3" cy="136.1" r="3.4"/><circle cx="447.4" cy="141.1" r="3.4"/><circle cx="453.9" cy="132.6" r="3.4"/><circle cx="456.0" cy="138.3" r="3.4"/><circle cx="461.7" cy="134.0" r="3.4"/><circle cx="483.1" cy="134.0" r="3.4"/><circle cx="486.7" cy="140.4" r="3.4"/><circle cx="419.6" cy="140.4" r="3.4"/><circle cx="429.6" cy="139.7" r="3.4"/><circle cx="354.4" cy="146.1" r="3.4"/><circle cx="363.0" cy="145.4" r="3.4"/><circle cx="369.4" cy="148.3" r="3.4"/><circle cx="380.1" cy="146.9" r="3.4"/><circle cx="395.9" cy="148.3" r="3.4"/><circle cx="401.6" cy="146.9" r="3.4"/><circle cx="407.3" cy="146.1" r="3.4"/><circle cx="355.1" cy="152.6" r="3.4"/><circle cx="371.6" cy="153.3" r="3.4"/><circle cx="382.3" cy="155.4" r="3.4"/><circle cx="348.0" cy="159.0" r="3.4"/><circle cx="358.0" cy="161.9" r="3.4"/><circle cx="363.7" cy="163.3" r="3.4"/><circle cx="378.7" cy="165.4" r="3.4"/><circle cx="375.9" cy="168.3" r="3.4"/><circle cx="393.0" cy="160.4" r="3.4"/><circle cx="405.1" cy="156.9" r="3.4"/><circle cx="367.3" cy="171.9" r="3.4"/><circle cx="383.0" cy="171.1" r="3.4"/><circle cx="408.0" cy="168.3" r="3.4"/><circle cx="403.0" cy="179.0" r="3.4"/><circle cx="377.0" cy="167.0" r="3.4"/><circle cx="414.6" cy="151.1" r="3.4"/><circle cx="419.6" cy="145.4" r="3.4"/><circle cx="436.0" cy="147.6" r="3.4"/><circle cx="441.7" cy="151.9" r="3.4"/><circle cx="453.9" cy="144.7" r="3.4"/><circle cx="466.7" cy="149.7" r="3.4"/><circle cx="473.9" cy="146.1" r="3.4"/><circle cx="483.9" cy="152.6" r="3.4"/><circle cx="423.1" cy="155.4" r="3.4"/><circle cx="428.9" cy="154.7" r="3.4"/><circle cx="445.3" cy="160.4" r="3.4"/><circle cx="450.3" cy="157.6" r="3.4"/><circle cx="453.9" cy="155.4" r="3.4"/><circle cx="467.4" cy="154.7" r="3.4"/><circle cx="469.6" cy="161.1" r="3.4"/><circle cx="482.4" cy="159.7" r="3.4"/><circle cx="420.3" cy="165.4" r="3.4"/><circle cx="438.1" cy="169.0" r="3.4"/><circle cx="443.9" cy="165.4" r="3.4"/><circle cx="450.3" cy="164.7" r="3.4"/><circle cx="452.4" cy="169.7" r="3.4"/><circle cx="463.9" cy="169.0" r="3.4"/><circle cx="470.3" cy="165.4" r="3.4"/><circle cx="476.0" cy="164.7" r="3.4"/><circle cx="485.3" cy="168.3" r="3.4"/><circle cx="415.3" cy="176.9" r="3.4"/><circle cx="428.9" cy="175.4" r="3.4"/><circle cx="435.3" cy="179.7" r="3.4"/><circle cx="447.4" cy="176.1" r="3.4"/><circle cx="453.9" cy="180.4" r="3.4"/><circle cx="460.3" cy="176.9" r="3.4"/><circle cx="469.6" cy="177.6" r="3.4"/><circle cx="481.0" cy="180.4" r="3.4"/><circle cx="486.0" cy="176.9" r="3.4"/><circle cx="505.7" cy="146.1" r="3.4"/><circle cx="517.1" cy="146.1" r="3.4"/><circle cx="526.4" cy="149.7" r="3.4"/><circle cx="508.6" cy="152.6" r="3.4"/><circle cx="501.4" cy="158.3" r="3.4"/><circle cx="510.0" cy="157.6" r="3.4"/><circle cx="520.0" cy="163.3" r="3.4"/><circle cx="528.6" cy="166.9" r="3.4"/><circle cx="493.6" cy="162.6" r="3.4"/><circle cx="505.0" cy="168.3" r="3.4"/><circle cx="502.9" cy="174.7" r="3.4"/><circle cx="512.9" cy="179.0" r="3.4"/><circle cx="497.1" cy="179.7" r="3.4"/><circle cx="490.0" cy="177.6" r="3.4"/><circle cx="505.0" cy="181.9" r="3.4"/><circle cx="407.1" cy="191.1" r="3.4"/><circle cx="411.4" cy="201.9" r="3.4"/><circle cx="421.4" cy="191.9" r="3.4"/><circle cx="420.7" cy="197.6" r="3.4"/><circle cx="420.0" cy="202.6" r="3.4"/><circle cx="431.4" cy="198.3" r="3.4"/><circle cx="428.6" cy="209.0" r="3.4"/><circle cx="432.1" cy="214.7" r="3.4"/><circle cx="434.3" cy="219.7" r="3.4"/><circle cx="438.6" cy="202.6" r="3.4"/><circle cx="440.0" cy="190.4" r="3.4"/><circle cx="444.3" cy="186.9" r="3.4"/><circle cx="449.3" cy="196.9" r="3.4"/><circle cx="447.1" cy="206.9" r="3.4"/><circle cx="457.1" cy="198.3" r="3.4"/><circle cx="455.7" cy="205.4" r="3.4"/><circle cx="457.9" cy="213.3" r="3.4"/><circle cx="456.4" cy="218.3" r="3.4"/><circle cx="461.4" cy="192.6" r="3.4"/><circle cx="465.0" cy="188.3" r="3.4"/><circle cx="470.0" cy="192.6" r="3.4"/><circle cx="472.9" cy="205.4" r="3.4"/><circle cx="452.9" cy="185.4" r="3.4"/><circle cx="437.9" cy="185.4" r="3.4"/><circle cx="474.3" cy="185.4" r="3.4"/><circle cx="484.3" cy="188.3" r="3.4"/><circle cx="490.0" cy="191.1" r="3.4"/><circle cx="500.7" cy="187.6" r="3.4"/><circle cx="514.3" cy="184.7" r="3.4"/><circle cx="479.3" cy="196.1" r="3.4"/><circle cx="484.3" cy="204.0" r="3.4"/><circle cx="477.1" cy="207.6" r="3.4"/><circle cx="478.6" cy="214.7" r="3.4"/><circle cx="473.6" cy="220.4" r="3.4"/><circle cx="436.0" cy="223.0" r="3.4"/><circle cx="473.0" cy="220.0" r="3.4"/><circle cx="371.9" cy="133.3" r="3.4"/><circle cx="408.5" cy="157.2" r="3.4"/><circle cx="453.5" cy="51.9" r="3.4"/><circle cx="446.6" cy="173.2" r="3.4"/><circle cx="380.2" cy="146.8" r="3.4"/><circle cx="469.3" cy="191.8" r="3.4"/><circle cx="417.4" cy="115.7" r="3.4"/><circle cx="391.6" cy="105.8" r="3.4"/><circle cx="475.2" cy="113.7" r="3.4"/><circle cx="438.6" cy="126.9" r="3.4"/><circle cx="482.9" cy="202.6" r="3.4"/><circle cx="388.6" cy="98.4" r="3.4"/><circle cx="494.0" cy="179.7" r="3.4"/><circle cx="520.2" cy="136.9" r="3.4"/><circle cx="372.0" cy="73.5" r="3.4"/><circle cx="396.9" cy="88.8" r="3.4"/><circle cx="451.6" cy="48.0" r="3.4"/><circle cx="445.1" cy="85.4" r="3.4"/><circle cx="475.9" cy="209.5" r="3.4"/><circle cx="401.1" cy="132.3" r="3.4"/><circle cx="378.6" cy="90.4" r="3.4"/><circle cx="497.1" cy="98.3" r="3.4"/><circle cx="406.4" cy="122.1" r="3.4"/><circle cx="452.6" cy="143.7" r="3.4"/><circle cx="475.8" cy="173.0" r="3.4"/><circle cx="450.6" cy="175.3" r="3.4"/><circle cx="371.4" cy="73.3" r="3.4"/><circle cx="402.2" cy="145.9" r="3.4"/><circle cx="473.3" cy="62.0" r="3.4"/><circle cx="523.3" cy="118.1" r="3.4"/><circle cx="445.3" cy="127.0" r="3.4"/><circle cx="473.0" cy="76.3" r="3.4"/><circle cx="406.1" cy="134.5" r="3.4"/><circle cx="393.5" cy="125.1" r="3.4"/><circle cx="407.3" cy="118.1" r="3.4"/><circle cx="495.4" cy="112.7" r="3.4"/><circle cx="434.7" cy="162.5" r="3.4"/><circle cx="357.9" cy="105.2" r="3.4"/><circle cx="408.2" cy="159.6" r="3.4"/><circle cx="411.4" cy="172.2" r="3.4"/><circle cx="504.5" cy="173.2" r="3.4"/><circle cx="372.1" cy="129.0" r="3.4"/><circle cx="431.2" cy="81.4" r="3.4"/><circle cx="486.7" cy="93.2" r="3.4"/><circle cx="473.8" cy="140.9" r="3.4"/><circle cx="392.4" cy="82.4" r="3.4"/><circle cx="400.4" cy="118.9" r="3.4"/><circle cx="462.1" cy="114.5" r="3.4"/><circle cx="468.2" cy="60.1" r="3.4"/><circle cx="447.6" cy="124.7" r="3.4"/><circle cx="459.9" cy="157.9" r="3.4"/><circle cx="460.3" cy="59.4" r="3.4"/><circle cx="476.9" cy="93.1" r="3.4"/><circle cx="444.0" cy="165.7" r="3.4"/><circle cx="440.4" cy="122.2" r="3.4"/><circle cx="424.2" cy="98.4" r="3.4"/><circle cx="476.4" cy="105.7" r="3.4"/><circle cx="392.7" cy="145.6" r="3.4"/><circle cx="422.3" cy="183.1" r="3.4"/><circle cx="362.9" cy="166.9" r="3.4"/><circle cx="413.0" cy="123.8" r="3.4"/><circle cx="443.4" cy="191.3" r="3.4"/><circle cx="380.8" cy="168.4" r="3.4"/><circle cx="412.6" cy="198.6" r="3.4"/><circle cx="423.5" cy="146.9" r="3.4"/><circle cx="489.1" cy="176.9" r="3.4"/><circle cx="507.0" cy="122.4" r="3.4"/><circle cx="396.8" cy="127.6" r="3.4"/><circle cx="347.4" cy="143.5" r="3.4"/><circle cx="448.7" cy="50.4" r="3.4"/><circle cx="400.4" cy="85.5" r="3.4"/><circle cx="435.3" cy="110.6" r="3.4"/><circle cx="505.0" cy="114.8" r="3.4"/><circle cx="519.5" cy="119.6" r="3.4"/><circle cx="417.7" cy="101.3" r="3.4"/><circle cx="369.3" cy="94.9" r="3.4"/><circle cx="446.1" cy="48.0" r="3.4"/><circle cx="463.5" cy="136.5" r="3.4"/><circle cx="375.2" cy="119.0" r="3.4"/><circle cx="449.7" cy="36.8" r="3.4"/><circle cx="492.1" cy="76.0" r="3.4"/><circle cx="415.7" cy="142.3" r="3.4"/><circle cx="507.1" cy="154.7" r="3.4"/><circle cx="401.4" cy="91.6" r="3.4"/><circle cx="464.3" cy="110.1" r="3.4"/><circle cx="431.2" cy="195.3" r="3.4"/><circle cx="403.9" cy="162.4" r="3.4"/><circle cx="392.6" cy="120.8" r="3.4"/><circle cx="388.6" cy="88.1" r="3.4"/><circle cx="375.0" cy="89.9" r="3.4"/><circle cx="415.1" cy="189.3" r="3.4"/><circle cx="389.5" cy="124.4" r="3.4"/><circle cx="505.2" cy="187.1" r="3.4"/><circle cx="515.4" cy="167.5" r="3.4"/><circle cx="368.0" cy="108.6" r="3.4"/><circle cx="463.7" cy="201.8" r="3.4"/><circle cx="476.2" cy="108.3" r="3.4"/><circle cx="386.7" cy="123.2" r="3.4"/><circle cx="497.3" cy="83.7" r="3.4"/><circle cx="430.6" cy="125.2" r="3.4"/><circle cx="508.1" cy="175.5" r="3.4"/><circle cx="374.6" cy="135.9" r="3.4"/><circle cx="522.9" cy="166.4" r="3.4"/><circle cx="446.7" cy="92.2" r="3.4"/><circle cx="380.2" cy="168.7" r="3.4"/><circle cx="461.5" cy="177.4" r="3.4"/><circle cx="437.5" cy="99.9" r="3.4"/><circle cx="498.2" cy="82.7" r="3.4"/><circle cx="350.7" cy="142.2" r="3.4"/><circle cx="502.0" cy="178.9" r="3.4"/><circle cx="433.5" cy="111.5" r="3.4"/><circle cx="411.5" cy="79.7" r="3.4"/><circle cx="440.9" cy="125.8" r="3.4"/><circle cx="394.6" cy="92.9" r="3.4"/><circle cx="422.3" cy="141.4" r="3.4"/><circle cx="412.7" cy="116.2" r="3.4"/><circle cx="458.1" cy="205.0" r="3.4"/><circle cx="379.4" cy="121.9" r="3.4"/><circle cx="481.0" cy="131.9" r="3.4"/><circle cx="483.9" cy="87.5" r="3.4"/><circle cx="446.6" cy="178.9" r="3.4"/><circle cx="441.2" cy="84.5" r="3.4"/><circle cx="374.6" cy="151.4" r="3.4"/><circle cx="448.8" cy="167.2" r="3.4"/><circle cx="439.2" cy="132.5" r="3.4"/><circle cx="447.4" cy="57.0" r="3.4"/><circle cx="521.7" cy="143.7" r="3.4"/><circle cx="376.8" cy="136.0" r="3.4"/><circle cx="494.5" cy="162.8" r="3.4"/><circle cx="518.2" cy="163.9" r="3.4"/><circle cx="525.9" cy="148.7" r="3.4"/><circle cx="457.0" cy="150.2" r="3.4"/><circle cx="481.9" cy="162.8" r="3.4"/><circle cx="423.0" cy="66.9" r="3.4"/><circle cx="506.7" cy="146.1" r="3.4"/><circle cx="399.5" cy="101.3" r="3.4"/><circle cx="449.1" cy="144.8" r="3.4"/><circle cx="422.2" cy="90.5" r="3.4"/><circle cx="419.6" cy="144.0" r="3.4"/><circle cx="372.1" cy="96.0" r="3.4"/><circle cx="425.7" cy="157.2" r="3.4"/><circle cx="495.4" cy="95.1" r="3.4"/><circle cx="400.3" cy="102.1" r="3.4"/><circle cx="457.0" cy="119.0" r="3.4"/><circle cx="443.0" cy="88.6" r="3.4"/><circle cx="463.8" cy="131.3" r="3.4"/><circle cx="488.7" cy="88.1" r="3.4"/><circle cx="367.5" cy="146.0" r="3.4"/><circle cx="407.2" cy="149.9" r="3.4"/><circle cx="406.0" cy="115.7" r="3.4"/><circle cx="371.0" cy="135.3" r="3.4"/><circle cx="499.8" cy="112.2" r="3.4"/><circle cx="499.9" cy="106.9" r="3.4"/><circle cx="502.2" cy="123.9" r="3.4"/><circle cx="372.8" cy="78.3" r="3.4"/><circle cx="464.5" cy="147.8" r="3.4"/><circle cx="509.4" cy="148.3" r="3.4"/><circle cx="417.0" cy="90.7" r="3.4"/><circle cx="422.0" cy="197.9" r="3.4"/><circle cx="462.3" cy="135.2" r="3.4"/><circle cx="469.7" cy="72.0" r="3.4"/><circle cx="385.5" cy="100.6" r="3.4"/><circle cx="457.8" cy="123.8" r="3.4"/><circle cx="355.9" cy="148.9" r="3.4"/><circle cx="381.7" cy="159.7" r="3.4"/><circle cx="389.7" cy="87.0" r="3.4"/><circle cx="379.3" cy="103.3" r="3.4"/><circle cx="481.0" cy="201.5" r="3.4"/><circle cx="434.9" cy="83.7" r="3.4"/><circle cx="432.6" cy="152.9" r="3.4"/><circle cx="505.2" cy="110.8" r="3.4"/><circle cx="389.3" cy="135.2" r="3.4"/><circle cx="378.1" cy="124.0" r="3.4"/><circle cx="482.7" cy="180.2" r="3.4"/><circle cx="515.0" cy="129.6" r="3.4"/><circle cx="456.3" cy="168.5" r="3.4"/><circle cx="352.8" cy="150.8" r="3.4"/><circle cx="393.0" cy="117.6" r="3.4"/><circle cx="454.7" cy="179.0" r="3.4"/><circle cx="392.0" cy="108.0" r="3.4"/><circle cx="414.3" cy="195.5" r="3.4"/><circle cx="481.2" cy="159.3" r="3.4"/><circle cx="370.7" cy="137.4" r="3.4"/><circle cx="464.3" cy="169.2" r="3.4"/><circle cx="502.2" cy="127.8" r="3.4"/><circle cx="493.7" cy="175.5" r="3.4"/><circle cx="485.8" cy="204.6" r="3.4"/><circle cx="511.2" cy="186.4" r="3.4"/><circle cx="393.7" cy="142.6" r="3.4"/><circle cx="406.2" cy="114.7" r="3.4"/><circle cx="411.6" cy="86.6" r="3.4"/><circle cx="360.3" cy="160.6" r="3.4"/><circle cx="410.1" cy="99.7" r="3.4"/><circle cx="405.2" cy="87.5" r="3.4"/><circle cx="394.4" cy="91.6" r="3.4"/><circle cx="516.7" cy="140.2" r="3.4"/><circle cx="488.0" cy="187.3" r="3.4"/><circle cx="536.6" cy="144.6" r="3.4"/><circle cx="473.0" cy="78.8" r="3.4"/><circle cx="482.3" cy="137.6" r="3.4"/><circle cx="473.4" cy="164.8" r="3.4"/><circle cx="460.9" cy="200.8" r="3.4"/><circle cx="472.7" cy="71.6" r="3.4"/><circle cx="374.2" cy="120.6" r="3.4"/><circle cx="419.4" cy="134.7" r="3.4"/><circle cx="416.7" cy="175.8" r="3.4"/><circle cx="509.7" cy="144.7" r="3.4"/><circle cx="483.2" cy="96.6" r="3.4"/><circle cx="481.2" cy="88.1" r="3.4"/><circle cx="462.6" cy="84.2" r="3.4"/><circle cx="459.5" cy="106.0" r="3.4"/><circle cx="452.1" cy="110.3" r="3.4"/><circle cx="406.6" cy="147.0" r="3.4"/><circle cx="495.0" cy="88.2" r="3.4"/><circle cx="402.0" cy="177.5" r="3.4"/><circle cx="384.2" cy="173.4" r="3.4"/><circle cx="502.7" cy="159.0" r="3.4"/><circle cx="466.3" cy="117.6" r="3.4"/><circle cx="450.7" cy="126.2" r="3.4"/><circle cx="400.4" cy="137.4" r="3.4"/><circle cx="374.2" cy="100.8" r="3.4"/><circle cx="453.0" cy="64.7" r="3.4"/><circle cx="441.9" cy="137.9" r="3.4"/><circle cx="457.1" cy="113.4" r="3.4"/><circle cx="354.8" cy="116.3" r="3.4"/><circle cx="477.9" cy="105.9" r="3.4"/><circle cx="474.9" cy="171.6" r="3.4"/><circle cx="468.8" cy="98.5" r="3.4"/><circle cx="440.6" cy="188.8" r="3.4"/><circle cx="381.5" cy="172.3" r="3.4"/><circle cx="412.9" cy="96.4" r="3.4"/><circle cx="520.1" cy="142.0" r="3.4"/><circle cx="377.2" cy="111.2" r="3.4"/></g>
</g>
<rect x="333.6" y="20.3" width="213.5" height="217.5" fill="none" stroke="#111" stroke-width="1.1"/>
<g stroke="#111" stroke-width="1.1"><line x1="364.10" y1="237.8" x2="364.10" y2="242.60000000000002"/><line x1="438.40" y1="237.8" x2="438.40" y2="242.60000000000002"/><line x1="512.70" y1="237.8" x2="512.70" y2="242.60000000000002"/><line x1="333.6" y1="227.40" x2="328.8" y2="227.40"/><line x1="333.6" y1="196.17" x2="328.8" y2="196.17"/><line x1="333.6" y1="164.94" x2="328.8" y2="164.94"/><line x1="333.6" y1="133.70" x2="328.8" y2="133.70"/><line x1="333.6" y1="102.46" x2="328.8" y2="102.46"/><line x1="333.6" y1="71.23" x2="328.8" y2="71.23"/><line x1="333.6" y1="39.99" x2="328.8" y2="39.99"/></g>
<g font-family="'DejaVu Sans', sans-serif" font-size="12" fill="#111" stroke="#111" stroke-width="0.25"><text x="364.10" y="255.4" text-anchor="middle">−20</text><text x="438.40" y="255.4" text-anchor="middle">0</text><text x="512.70" y="255.4" text-anchor="middle">20</text><text x="325.00" y="232.00" text-anchor="end">−15</text><text x="325.00" y="200.77" text-anchor="end">−10</text><text x="325.00" y="169.53" text-anchor="end">−5</text><text x="325.00" y="138.30" text-anchor="end">0</text><text x="325.00" y="107.06" text-anchor="end">5</text><text x="325.00" y="75.83" text-anchor="end">10</text><text x="325.00" y="44.59" text-anchor="end">15</text></g>
<g font-family="'Liberation Sans', Arial, sans-serif" font-weight="bold" font-size="13.6" fill="#111"><text x="443.2" y="13.8" text-anchor="middle">t-SNE</text><text x="438.0" y="275.2" text-anchor="middle">x-tSNE</text><text transform="translate(296.0,137.5) rotate(-90)" text-anchor="middle">y-tSNE</text></g>
<rect x="339.5" y="26.5" width="101.0" height="40.5" rx="2.5" ry="2.5" fill="#fff" fill-opacity="0.8" stroke="#d0d0d0" stroke-width="1"/>
<circle cx="356.0" cy="38.3" r="3.4" fill="#1f77b4" fill-opacity="0.2" stroke="#1f77b4" stroke-opacity="0.2" stroke-width="1.6"/>
<circle cx="356.0" cy="56.9" r="3.4" fill="#d62728" fill-opacity="0.2" stroke="#d62728" stroke-opacity="0.2" stroke-width="1.6"/>
<g font-family="'DejaVu Sans', sans-serif" font-size="12" fill="#111" stroke="#111" stroke-width="0.25"><text x="379.0" y="41.3">Original</text><text x="379.0" y="59.6">Synthetic</text></g>
</svg></body></html>
